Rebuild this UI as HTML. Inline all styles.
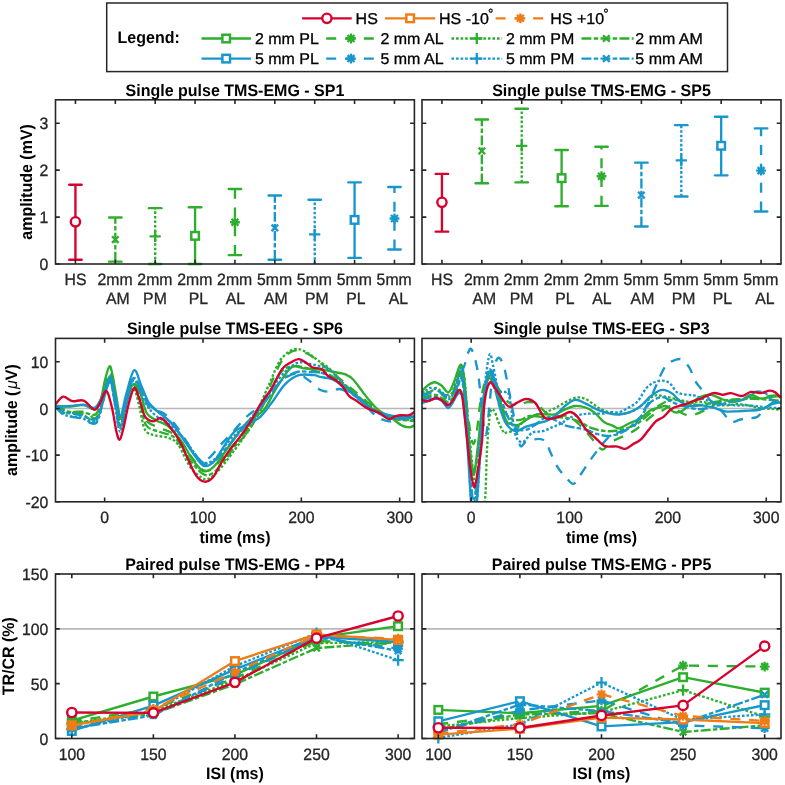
<!DOCTYPE html>
<html><head><meta charset="utf-8"><title>Figure</title>
<style>html,body{margin:0;padding:0;background:#fff;width:785px;height:785px;overflow:hidden}svg{display:block}</style>
</head><body>
<svg width="785" height="785" viewBox="0 0 785 785" font-family="'Liberation Sans', Arial, Helvetica, sans-serif"><style>text{text-rendering:geometricPrecision}</style><defs><clipPath id="c6"><rect x="55.5" y="338.4" width="358.9" height="163.4"/></clipPath><clipPath id="c3"><rect x="422" y="338.4" width="359" height="163.4"/></clipPath><clipPath id="c4"><rect x="55.5" y="574" width="358.9" height="164.5"/></clipPath><clipPath id="c5"><rect x="422" y="574" width="359" height="164.5"/></clipPath><clipPath id="c1"><rect x="55.5" y="99.8" width="358.9" height="164.2"/></clipPath><clipPath id="c2"><rect x="422" y="99.8" width="359" height="164.2"/></clipPath></defs><rect width="785" height="785" fill="#fff"/><path d="M75.44 259.78 L75.44 184.71" fill="none" stroke="#D8002F" stroke-width="2.35" stroke-linejoin="round" clip-path="url(#c1)"/>
<path d="M69.24 259.78H81.64" stroke="#D8002F" stroke-width="2.4" stroke-linecap="round"/>
<path d="M69.24 184.71H81.64" stroke="#D8002F" stroke-width="2.4" stroke-linecap="round"/>
<circle cx="75.44" cy="221.78" r="4.65" fill="#fff" stroke="#D8002F" stroke-width="2.4"/>
<path d="M115.32 261.65 L115.32 217.55" fill="none" stroke="#2DAE2D" stroke-width="2.35" stroke-dasharray="9.9 2.3 4.5 2.3" stroke-linejoin="round" clip-path="url(#c1)"/>
<path d="M109.12 261.65H121.52" stroke="#2DAE2D" stroke-width="2.4" stroke-linecap="round"/>
<path d="M109.12 217.55H121.52" stroke="#2DAE2D" stroke-width="2.4" stroke-linecap="round"/>
<path d="M112.02 236.3L118.62 242.9M112.02 242.9L118.62 236.3" stroke="#2DAE2D" stroke-width="2.3"/>
<path d="M155.19 264 L155.19 208.17" fill="none" stroke="#2DAE2D" stroke-width="2.35" stroke-dasharray="2.6 1.95" stroke-linejoin="round" clip-path="url(#c1)"/>
<path d="M148.99 264H161.39" stroke="#2DAE2D" stroke-width="2.4" stroke-linecap="round"/>
<path d="M148.99 208.17H161.39" stroke="#2DAE2D" stroke-width="2.4" stroke-linecap="round"/>
<path d="M149.59 236.32H160.79M155.19 230.72V241.92" stroke="#2DAE2D" stroke-width="2.3"/>
<path d="M195.07 264 L195.07 207.23" fill="none" stroke="#2DAE2D" stroke-width="2.35" stroke-linejoin="round" clip-path="url(#c1)"/>
<path d="M188.87 264H201.27" stroke="#2DAE2D" stroke-width="2.4" stroke-linecap="round"/>
<path d="M188.87 207.23H201.27" stroke="#2DAE2D" stroke-width="2.4" stroke-linecap="round"/>
<rect x="191.27" y="232.05" width="7.6" height="7.6" fill="#fff" stroke="#2DAE2D" stroke-width="2.45"/>
<path d="M234.95 255.09 L234.95 188.94" fill="none" stroke="#2DAE2D" stroke-width="2.35" stroke-dasharray="10 8.8" stroke-linejoin="round" clip-path="url(#c1)"/>
<path d="M228.75 255.09H241.15" stroke="#2DAE2D" stroke-width="2.4" stroke-linecap="round"/>
<path d="M228.75 188.94H241.15" stroke="#2DAE2D" stroke-width="2.4" stroke-linecap="round"/>
<path d="M230.05 222.25L239.85 222.25M231.49 218.78L238.41 225.71M234.95 217.35L234.95 227.15M238.41 218.78L231.49 225.71" stroke="#2DAE2D" stroke-width="2.3"/>
<path d="M274.83 259.78 L274.83 195.51" fill="none" stroke="#1797CB" stroke-width="2.35" stroke-dasharray="9.9 2.3 4.5 2.3" stroke-linejoin="round" clip-path="url(#c1)"/>
<path d="M268.63 259.78H281.03" stroke="#1797CB" stroke-width="2.4" stroke-linecap="round"/>
<path d="M268.63 195.51H281.03" stroke="#1797CB" stroke-width="2.4" stroke-linecap="round"/>
<path d="M271.53 224.58L278.13 231.18M271.53 231.18L278.13 224.58" stroke="#1797CB" stroke-width="2.3"/>
<path d="M314.71 273.38 L314.71 199.73" fill="none" stroke="#1797CB" stroke-width="2.35" stroke-dasharray="2.6 1.95" stroke-linejoin="round" clip-path="url(#c1)"/>
<path d="M308.51 199.73H320.91" stroke="#1797CB" stroke-width="2.4" stroke-linecap="round"/>
<path d="M309.11 234.44H320.31M314.71 228.84V240.04" stroke="#1797CB" stroke-width="2.3"/>
<path d="M354.58 257.9 L354.58 182.37" fill="none" stroke="#1797CB" stroke-width="2.35" stroke-linejoin="round" clip-path="url(#c1)"/>
<path d="M348.38 257.9H360.78" stroke="#1797CB" stroke-width="2.4" stroke-linecap="round"/>
<path d="M348.38 182.37H360.78" stroke="#1797CB" stroke-width="2.4" stroke-linecap="round"/>
<rect x="350.78" y="216.1" width="7.6" height="7.6" fill="#fff" stroke="#1797CB" stroke-width="2.45"/>
<path d="M394.46 249.46 L394.46 187.06" fill="none" stroke="#1797CB" stroke-width="2.35" stroke-dasharray="10 8.8" stroke-linejoin="round" clip-path="url(#c1)"/>
<path d="M388.26 249.46H400.66" stroke="#1797CB" stroke-width="2.4" stroke-linecap="round"/>
<path d="M388.26 187.06H400.66" stroke="#1797CB" stroke-width="2.4" stroke-linecap="round"/>
<path d="M389.56 218.49L399.36 218.49M391 215.03L397.93 221.96M394.46 213.59L394.46 223.39M397.93 215.03L391 221.96" stroke="#1797CB" stroke-width="2.3"/>
<path d="M441.94 231.63 L441.94 173.92" fill="none" stroke="#D8002F" stroke-width="2.35" stroke-linejoin="round" clip-path="url(#c2)"/>
<path d="M435.74 231.63H448.14" stroke="#D8002F" stroke-width="2.4" stroke-linecap="round"/>
<path d="M435.74 173.92H448.14" stroke="#D8002F" stroke-width="2.4" stroke-linecap="round"/>
<circle cx="441.94" cy="202.31" r="4.65" fill="#fff" stroke="#D8002F" stroke-width="2.4"/>
<path d="M481.83 183.31 L481.83 119.5" fill="none" stroke="#2DAE2D" stroke-width="2.35" stroke-dasharray="9.9 2.3 4.5 2.3" stroke-linejoin="round" clip-path="url(#c2)"/>
<path d="M475.63 183.31H488.03" stroke="#2DAE2D" stroke-width="2.4" stroke-linecap="round"/>
<path d="M475.63 119.5H488.03" stroke="#2DAE2D" stroke-width="2.4" stroke-linecap="round"/>
<path d="M478.53 147.64L485.13 154.24M478.53 154.24L485.13 147.64" stroke="#2DAE2D" stroke-width="2.3"/>
<path d="M521.72 182.37 L521.72 108.71" fill="none" stroke="#2DAE2D" stroke-width="2.35" stroke-dasharray="2.6 1.95" stroke-linejoin="round" clip-path="url(#c2)"/>
<path d="M515.52 182.37H527.92" stroke="#2DAE2D" stroke-width="2.4" stroke-linecap="round"/>
<path d="M515.52 108.71H527.92" stroke="#2DAE2D" stroke-width="2.4" stroke-linecap="round"/>
<path d="M516.12 145.78H527.32M521.72 140.18V151.38" stroke="#2DAE2D" stroke-width="2.3"/>
<path d="M561.61 206.3 L561.61 150" fill="none" stroke="#2DAE2D" stroke-width="2.35" stroke-linejoin="round" clip-path="url(#c2)"/>
<path d="M555.41 206.3H567.81" stroke="#2DAE2D" stroke-width="2.4" stroke-linecap="round"/>
<path d="M555.41 150H567.81" stroke="#2DAE2D" stroke-width="2.4" stroke-linecap="round"/>
<rect x="557.81" y="174.35" width="7.6" height="7.6" fill="#fff" stroke="#2DAE2D" stroke-width="2.45"/>
<path d="M601.5 205.83 L601.5 146.71" fill="none" stroke="#2DAE2D" stroke-width="2.35" stroke-dasharray="10 8.8" stroke-linejoin="round" clip-path="url(#c2)"/>
<path d="M595.3 205.83H607.7" stroke="#2DAE2D" stroke-width="2.4" stroke-linecap="round"/>
<path d="M595.3 146.71H607.7" stroke="#2DAE2D" stroke-width="2.4" stroke-linecap="round"/>
<path d="M596.6 176.27L606.4 176.27M598.04 172.81L604.96 179.74M601.5 171.37L601.5 181.17M604.96 172.81L598.04 179.74" stroke="#2DAE2D" stroke-width="2.3"/>
<path d="M641.39 226.47 L641.39 162.67" fill="none" stroke="#1797CB" stroke-width="2.35" stroke-dasharray="9.9 2.3 4.5 2.3" stroke-linejoin="round" clip-path="url(#c2)"/>
<path d="M635.19 226.47H647.59" stroke="#1797CB" stroke-width="2.4" stroke-linecap="round"/>
<path d="M635.19 162.67H647.59" stroke="#1797CB" stroke-width="2.4" stroke-linecap="round"/>
<path d="M638.09 191.74L644.69 198.34M638.09 198.34L644.69 191.74" stroke="#1797CB" stroke-width="2.3"/>
<path d="M681.28 196.44 L681.28 125.13" fill="none" stroke="#1797CB" stroke-width="2.35" stroke-dasharray="2.6 1.95" stroke-linejoin="round" clip-path="url(#c2)"/>
<path d="M675.08 196.44H687.48" stroke="#1797CB" stroke-width="2.4" stroke-linecap="round"/>
<path d="M675.08 125.13H687.48" stroke="#1797CB" stroke-width="2.4" stroke-linecap="round"/>
<path d="M675.68 160.32H686.88M681.28 154.72V165.92" stroke="#1797CB" stroke-width="2.3"/>
<path d="M721.17 175.33 L721.17 116.69" fill="none" stroke="#1797CB" stroke-width="2.35" stroke-linejoin="round" clip-path="url(#c2)"/>
<path d="M714.97 175.33H727.37" stroke="#1797CB" stroke-width="2.4" stroke-linecap="round"/>
<path d="M714.97 116.69H727.37" stroke="#1797CB" stroke-width="2.4" stroke-linecap="round"/>
<rect x="717.37" y="141.98" width="7.6" height="7.6" fill="#fff" stroke="#1797CB" stroke-width="2.45"/>
<path d="M761.06 211.46 L761.06 128.42" fill="none" stroke="#1797CB" stroke-width="2.35" stroke-dasharray="10 8.8" stroke-linejoin="round" clip-path="url(#c2)"/>
<path d="M754.86 211.46H767.26" stroke="#1797CB" stroke-width="2.4" stroke-linecap="round"/>
<path d="M754.86 128.42H767.26" stroke="#1797CB" stroke-width="2.4" stroke-linecap="round"/>
<path d="M756.16 170.64L765.96 170.64M757.59 167.18L764.52 174.11M761.06 165.74L761.06 175.54M764.52 167.18L757.59 174.11" stroke="#1797CB" stroke-width="2.3"/>
<path d="M75.44 264V259.7M75.44 99.8V104.1M115.32 264V259.7M115.32 99.8V104.1M155.19 264V259.7M155.19 99.8V104.1M195.07 264V259.7M195.07 99.8V104.1M234.95 264V259.7M234.95 99.8V104.1M274.83 264V259.7M274.83 99.8V104.1M314.71 264V259.7M314.71 99.8V104.1M354.58 264V259.7M354.58 99.8V104.1M394.46 264V259.7M394.46 99.8V104.1M55.5 264H59.8M414.4 264H410.1M55.5 217.09H59.8M414.4 217.09H410.1M55.5 170.17H59.8M414.4 170.17H410.1M55.5 123.26H59.8M414.4 123.26H410.1" stroke="#262626" stroke-width="1.6"/>
<rect x="55.5" y="99.8" width="358.9" height="164.2" fill="none" stroke="#262626" stroke-width="1.6"/>
<text font-size="15.8" text-anchor="middle" font-weight="normal" fill="#262626" transform="translate(75.44 284.5) scale(1 1.04)" stroke="#262626" stroke-width="0.3">HS</text>
<text font-size="15.8" text-anchor="middle" font-weight="normal" fill="#262626" transform="translate(115.02 284.5) scale(1 1.04)" stroke="#262626" stroke-width="0.3">2mm</text>
<text font-size="15.8" text-anchor="middle" font-weight="normal" fill="#262626" transform="translate(117.87 303.9) scale(1 1.04)" stroke="#262626" stroke-width="0.3">AM</text>
<text font-size="15.8" text-anchor="middle" font-weight="normal" fill="#262626" transform="translate(154.89 284.5) scale(1 1.04)" stroke="#262626" stroke-width="0.3">2mm</text>
<text font-size="15.8" text-anchor="middle" font-weight="normal" fill="#262626" transform="translate(154.94 303.9) scale(1 1.04)" stroke="#262626" stroke-width="0.3">PM</text>
<text font-size="15.8" text-anchor="middle" font-weight="normal" fill="#262626" transform="translate(194.77 284.5) scale(1 1.04)" stroke="#262626" stroke-width="0.3">2mm</text>
<text font-size="15.8" text-anchor="middle" font-weight="normal" fill="#262626" transform="translate(198.31 303.9) scale(1 1.04)" stroke="#262626" stroke-width="0.3">PL</text>
<text font-size="15.8" text-anchor="middle" font-weight="normal" fill="#262626" transform="translate(234.65 284.5) scale(1 1.04)" stroke="#262626" stroke-width="0.3">2mm</text>
<text font-size="15.8" text-anchor="middle" font-weight="normal" fill="#262626" transform="translate(235.29 303.9) scale(1 1.04)" stroke="#262626" stroke-width="0.3">AL</text>
<text font-size="15.8" text-anchor="middle" font-weight="normal" fill="#262626" transform="translate(274.53 284.5) scale(1 1.04)" stroke="#262626" stroke-width="0.3">5mm</text>
<text font-size="15.8" text-anchor="middle" font-weight="normal" fill="#262626" transform="translate(275.88 303.9) scale(1 1.04)" stroke="#262626" stroke-width="0.3">AM</text>
<text font-size="15.8" text-anchor="middle" font-weight="normal" fill="#262626" transform="translate(314.41 284.5) scale(1 1.04)" stroke="#262626" stroke-width="0.3">5mm</text>
<text font-size="15.8" text-anchor="middle" font-weight="normal" fill="#262626" transform="translate(316.91 303.9) scale(1 1.04)" stroke="#262626" stroke-width="0.3">PM</text>
<text font-size="15.8" text-anchor="middle" font-weight="normal" fill="#262626" transform="translate(354.28 284.5) scale(1 1.04)" stroke="#262626" stroke-width="0.3">5mm</text>
<text font-size="15.8" text-anchor="middle" font-weight="normal" fill="#262626" transform="translate(355.82 303.9) scale(1 1.04)" stroke="#262626" stroke-width="0.3">PL</text>
<text font-size="15.8" text-anchor="middle" font-weight="normal" fill="#262626" transform="translate(394.16 284.5) scale(1 1.04)" stroke="#262626" stroke-width="0.3">5mm</text>
<text font-size="15.8" text-anchor="middle" font-weight="normal" fill="#262626" transform="translate(398.3 303.9) scale(1 1.04)" stroke="#262626" stroke-width="0.3">AL</text>
<text font-size="15.8" text-anchor="end" font-weight="normal" fill="#262626" transform="translate(48.3 270.1) scale(1 1.04)" stroke="#262626" stroke-width="0.3">0</text>
<text font-size="15.8" text-anchor="end" font-weight="normal" fill="#262626" transform="translate(48.3 223.19) scale(1 1.04)" stroke="#262626" stroke-width="0.3">1</text>
<text font-size="15.8" text-anchor="end" font-weight="normal" fill="#262626" transform="translate(48.3 176.27) scale(1 1.04)" stroke="#262626" stroke-width="0.3">2</text>
<text font-size="15.8" text-anchor="end" font-weight="normal" fill="#262626" transform="translate(48.3 129.36) scale(1 1.04)" stroke="#262626" stroke-width="0.3">3</text>
<text font-size="16" text-anchor="middle" font-weight="bold" fill="#000" transform="translate(234.95 95.5) scale(1 1.04)">Single pulse TMS-EMG - SP1</text>
<text x="0" y="0" font-size="16" text-anchor="middle" font-weight="bold" fill="#000" transform="translate(32.4 181.9) rotate(-90) scale(1 1.04)">amplitude (mV)</text>
<path d="M441.94 264V259.7M441.94 99.8V104.1M481.83 264V259.7M481.83 99.8V104.1M521.72 264V259.7M521.72 99.8V104.1M561.61 264V259.7M561.61 99.8V104.1M601.5 264V259.7M601.5 99.8V104.1M641.39 264V259.7M641.39 99.8V104.1M681.28 264V259.7M681.28 99.8V104.1M721.17 264V259.7M721.17 99.8V104.1M761.06 264V259.7M761.06 99.8V104.1M422 264H426.3M781 264H776.7M422 217.09H426.3M781 217.09H776.7M422 170.17H426.3M781 170.17H776.7M422 123.26H426.3M781 123.26H776.7" stroke="#262626" stroke-width="1.6"/>
<rect x="422" y="99.8" width="359" height="164.2" fill="none" stroke="#262626" stroke-width="1.6"/>
<text font-size="15.8" text-anchor="middle" font-weight="normal" fill="#262626" transform="translate(441.94 284.5) scale(1 1.04)" stroke="#262626" stroke-width="0.3">HS</text>
<text font-size="15.8" text-anchor="middle" font-weight="normal" fill="#262626" transform="translate(481.53 284.5) scale(1 1.04)" stroke="#262626" stroke-width="0.3">2mm</text>
<text font-size="15.8" text-anchor="middle" font-weight="normal" fill="#262626" transform="translate(484.38 303.9) scale(1 1.04)" stroke="#262626" stroke-width="0.3">AM</text>
<text font-size="15.8" text-anchor="middle" font-weight="normal" fill="#262626" transform="translate(521.42 284.5) scale(1 1.04)" stroke="#262626" stroke-width="0.3">2mm</text>
<text font-size="15.8" text-anchor="middle" font-weight="normal" fill="#262626" transform="translate(521.47 303.9) scale(1 1.04)" stroke="#262626" stroke-width="0.3">PM</text>
<text font-size="15.8" text-anchor="middle" font-weight="normal" fill="#262626" transform="translate(561.31 284.5) scale(1 1.04)" stroke="#262626" stroke-width="0.3">2mm</text>
<text font-size="15.8" text-anchor="middle" font-weight="normal" fill="#262626" transform="translate(564.85 303.9) scale(1 1.04)" stroke="#262626" stroke-width="0.3">PL</text>
<text font-size="15.8" text-anchor="middle" font-weight="normal" fill="#262626" transform="translate(601.2 284.5) scale(1 1.04)" stroke="#262626" stroke-width="0.3">2mm</text>
<text font-size="15.8" text-anchor="middle" font-weight="normal" fill="#262626" transform="translate(601.84 303.9) scale(1 1.04)" stroke="#262626" stroke-width="0.3">AL</text>
<text font-size="15.8" text-anchor="middle" font-weight="normal" fill="#262626" transform="translate(641.09 284.5) scale(1 1.04)" stroke="#262626" stroke-width="0.3">5mm</text>
<text font-size="15.8" text-anchor="middle" font-weight="normal" fill="#262626" transform="translate(642.44 303.9) scale(1 1.04)" stroke="#262626" stroke-width="0.3">AM</text>
<text font-size="15.8" text-anchor="middle" font-weight="normal" fill="#262626" transform="translate(680.98 284.5) scale(1 1.04)" stroke="#262626" stroke-width="0.3">5mm</text>
<text font-size="15.8" text-anchor="middle" font-weight="normal" fill="#262626" transform="translate(683.48 303.9) scale(1 1.04)" stroke="#262626" stroke-width="0.3">PM</text>
<text font-size="15.8" text-anchor="middle" font-weight="normal" fill="#262626" transform="translate(720.87 284.5) scale(1 1.04)" stroke="#262626" stroke-width="0.3">5mm</text>
<text font-size="15.8" text-anchor="middle" font-weight="normal" fill="#262626" transform="translate(722.41 303.9) scale(1 1.04)" stroke="#262626" stroke-width="0.3">PL</text>
<text font-size="15.8" text-anchor="middle" font-weight="normal" fill="#262626" transform="translate(760.76 284.5) scale(1 1.04)" stroke="#262626" stroke-width="0.3">5mm</text>
<text font-size="15.8" text-anchor="middle" font-weight="normal" fill="#262626" transform="translate(764.9 303.9) scale(1 1.04)" stroke="#262626" stroke-width="0.3">AL</text>
<text font-size="16" text-anchor="middle" font-weight="bold" fill="#000" transform="translate(601.5 95.5) scale(1 1.04)">Single pulse TMS-EMG - SP5</text>
<path d="M55.5 408.43H414.4" stroke="#B8B8B8" stroke-width="1.6"/>
<path d="M422 408.43H781" stroke="#B8B8B8" stroke-width="1.6"/>
<path d="M55.5 405.8 C57.92 405.92 65.3 406.7 70 406.5 C74.7 406.3 79.7 404.15 83.7 404.6 C87.7 405.05 91.13 410.15 94 409.2 C96.87 408.25 99.07 403.77 100.9 398.9 C102.73 394.03 103.57 385.45 105 380 C106.43 374.55 108.25 367.03 109.5 366.2 C110.75 365.37 111.45 370.5 112.5 375 C113.55 379.5 114.48 385.97 115.8 393.2 C117.12 400.43 119.03 415.93 120.4 418.4 C121.77 420.87 122.67 412.2 124 408 C125.33 403.8 126.73 397.2 128.4 393.2 C130.07 389.2 132.07 384.2 134 384 C135.93 383.8 137.9 387.17 140 392 C142.1 396.83 143.85 408.27 146.6 413 C149.35 417.73 152.92 418.2 156.5 420.4 C160.08 422.6 163.95 422.75 168.1 426.2 C172.25 429.65 177.53 435.85 181.4 441.1 C185.27 446.35 187.72 452.73 191.3 457.7 C194.88 462.67 199.32 469.25 202.9 470.9 C206.48 472.55 209.22 470.63 212.8 467.6 C216.38 464.57 220.7 457.67 224.4 452.7 C228.1 447.73 231.02 443.08 235 437.8 C238.98 432.52 243.53 425.58 248.3 421 C253.07 416.42 259 415.65 263.6 410.3 C268.2 404.95 271.3 396.03 275.9 388.9 C280.5 381.77 286.62 370.93 291.2 367.5 C295.78 364.07 299.33 368.03 303.4 368.3 C307.47 368.57 311.57 368.72 315.6 369.1 C319.63 369.48 324.1 370.03 327.6 370.6 C331.1 371.17 333.62 371.87 336.6 372.5 C339.58 373.13 342.75 373.23 345.5 374.4 C348.25 375.57 350.35 376.73 353.1 379.5 C355.85 382.27 359.02 387.18 362 391 C364.98 394.82 368.02 399.02 371 402.4 C373.98 405.78 376.52 408.75 379.9 411.3 C383.28 413.85 387.7 415.35 391.3 417.7 C394.9 420.05 398.52 423.8 401.5 425.4 C404.48 427 407.05 427.3 409.2 427.3 C411.35 427.3 413.53 425.72 414.4 425.4" fill="none" stroke="#2DAE2D" stroke-width="2.35" stroke-linejoin="round" clip-path="url(#c6)"/>
<path d="M55.5 406 C57.92 406.92 65.08 410.5 70 411.5 C74.92 412.5 80.67 410.92 85 412 C89.33 413.08 93 420.5 96 418 C99 415.5 100.67 404.67 103 397 C105.33 389.33 108 372 110 372 C112 372 113.27 388.67 115 397 C116.73 405.33 118.4 421.83 120.4 422 C122.4 422.17 124.73 404.5 127 398 C129.27 391.5 131.83 383 134 383 C136.17 383 138 391.83 140 398 C142 404.17 142.67 415 146 420 C149.33 425 155.17 425.5 160 428 C164.83 430.5 170 430.5 175 435 C180 439.5 185.33 449.17 190 455 C194.67 460.83 199.17 467.83 203 470 C206.83 472.17 209.33 470.5 213 468 C216.67 465.5 221.33 459.17 225 455 C228.67 450.83 231.33 447.17 235 443 C238.67 438.83 243.17 435.17 247 430 C250.83 424.83 254.17 419.33 258 412 C261.83 404.67 266.17 394.33 270 386 C273.83 377.67 277.17 367.83 281 362 C284.83 356.17 288.83 352.5 293 351 C297.17 349.5 301.83 351.33 306 353 C310.17 354.67 314 358 318 361 C322 364 325.5 367.33 330 371 C334.5 374.67 340 378.83 345 383 C350 387.17 355 391.83 360 396 C365 400.17 370 404.5 375 408 C380 411.5 383.43 415.33 390 417 C396.57 418.67 410.33 417.83 414.4 418" fill="none" stroke="#2DAE2D" stroke-width="2.35" stroke-dasharray="10 8.8" stroke-linejoin="round" clip-path="url(#c6)"/>
<path d="M55.5 407 C57.08 408 60.92 412 65 413 C69.08 414 75 411.67 80 413 C85 414.33 91.33 422.33 95 421 C98.67 419.67 99.5 411.83 102 405 C104.5 398.17 107.83 380.83 110 380 C112.17 379.17 113.27 392 115 400 C116.73 408 118.4 427.17 120.4 428 C122.4 428.83 124.73 411.33 127 405 C129.27 398.67 132 390 134 390 C136 390 137.18 398.42 139 405 C140.82 411.58 142.25 424.45 144.9 429.5 C147.55 434.55 151.03 433.92 154.9 435.3 C158.77 436.68 164.25 436.28 168.1 437.8 C171.95 439.32 174.42 439.7 178 444.4 C181.58 449.1 185.73 460.48 189.6 466 C193.47 471.52 197.88 475.43 201.2 477.5 C204.52 479.57 206.18 480.05 209.5 478.4 C212.82 476.75 216.85 472.43 221.1 467.6 C225.35 462.77 230.97 454.87 235 449.4 C239.03 443.93 241.55 441.32 245.3 434.8 C249.05 428.28 253.42 418.97 257.5 410.3 C261.58 401.63 265.97 391.2 269.8 382.8 C273.63 374.4 276.43 365.5 280.5 359.9 C284.57 354.3 289.87 350.48 294.2 349.2 C298.53 347.92 302.67 350.42 306.5 352.2 C310.33 353.98 313.28 357.1 317.2 359.9 C321.12 362.7 325.37 364.82 330 369 C334.63 373.18 340 380.17 345 385 C350 389.83 355 393.83 360 398 C365 402.17 370 406.67 375 410 C380 413.33 383.43 416.33 390 418 C396.57 419.67 410.33 419.67 414.4 420" fill="none" stroke="#2DAE2D" stroke-width="2.35" stroke-dasharray="2.6 1.95" stroke-linejoin="round" clip-path="url(#c6)"/>
<path d="M55.5 406.5 C57.92 407.42 65.08 410.92 70 412 C74.92 413.08 80.67 412.67 85 413 C89.33 413.33 93 416.5 96 414 C99 411.5 100.67 404 103 398 C105.33 392 108 377.67 110 378 C112 378.33 113.27 392.17 115 400 C116.73 407.83 118.4 425 120.4 425 C122.4 425 124.73 406.5 127 400 C129.27 393.5 131.83 386 134 386 C136.17 386 138 393.5 140 400 C142 406.5 142.67 419.67 146 425 C149.33 430.33 155.17 429.83 160 432 C164.83 434.17 170 433.33 175 438 C180 442.67 185.33 454 190 460 C194.67 466 199.17 471.83 203 474 C206.83 476.17 209.33 475.33 213 473 C216.67 470.67 221.33 464.5 225 460 C228.67 455.5 231.33 450.5 235 446 C238.67 441.5 243.17 438.17 247 433 C250.83 427.83 254.17 421.83 258 415 C261.83 408.17 266.17 399.17 270 392 C273.83 384.83 277.17 376.33 281 372 C284.83 367.67 288.83 366.67 293 366 C297.17 365.33 301.83 367 306 368 C310.17 369 314 370.83 318 372 C322 373.17 325.5 372.83 330 375 C334.5 377.17 340 381.17 345 385 C350 388.83 355 393.83 360 398 C365 402.17 370 406.67 375 410 C380 413.33 383.43 416.17 390 418 C396.57 419.83 410.33 420.5 414.4 421" fill="none" stroke="#2DAE2D" stroke-width="2.35" stroke-dasharray="9.9 2.3 4.5 2.3" stroke-linejoin="round" clip-path="url(#c6)"/>
<path d="M55.5 406.9 C57.92 406.75 65.3 406.28 70 406 C74.7 405.72 79.52 404.95 83.7 405.2 C87.88 405.45 91.88 409.2 95.1 407.5 C98.32 405.8 100.52 400.25 103 395 C105.48 389.75 108 376 110 376 C112 376 113.27 388.32 115 395 C116.73 401.68 118.57 416.1 120.4 416.1 C122.23 416.1 123.72 402.65 126 395 C128.28 387.35 131.5 371.62 134.1 370.2 C136.7 368.78 138.97 380.75 141.6 386.5 C144.23 392.25 146.87 400.28 149.9 404.7 C152.93 409.12 155.93 409.68 159.8 413 C163.67 416.32 168.95 419.92 173.1 424.6 C177.25 429.28 180.83 435.58 184.7 441.1 C188.57 446.62 193 453.55 196.3 457.7 C199.6 461.85 201.47 465.45 204.5 466 C207.53 466.55 210.9 464.87 214.5 461 C218.1 457.13 222.68 447.77 226.1 442.8 C229.52 437.83 231.8 434.07 235 431.2 C238.2 428.33 241.03 428.05 245.3 425.6 C249.57 423.15 256.02 420.57 260.6 416.5 C265.18 412.43 268.73 406.57 272.8 401.2 C276.87 395.83 280.67 388.63 285 384.3 C289.33 379.97 293.95 376.72 298.8 375.2 C303.65 373.68 310.57 374.92 314.1 375.2 C317.63 375.48 316.9 376.18 320 376.9 C323.1 377.62 328.45 377.58 332.7 379.5 C336.95 381.42 341.25 385.22 345.5 388.4 C349.75 391.58 353.95 395.2 358.2 398.6 C362.45 402 366.75 406.25 371 408.8 C375.25 411.35 379.47 412.63 383.7 413.9 C387.93 415.17 391.28 415.98 396.4 416.4 C401.52 416.82 411.4 416.4 414.4 416.4" fill="none" stroke="#1797CB" stroke-width="2.35" stroke-linejoin="round" clip-path="url(#c6)"/>
<path d="M55.5 407 C57.08 408.42 60.92 413.67 65 415.5 C69.08 417.33 74.83 416.75 80 418 C85.17 419.25 92.17 426 96 423 C99.83 420 100.67 407.5 103 400 C105.33 392.5 108 377.33 110 378 C112 378.67 113.27 395.33 115 404 C116.73 412.67 118.4 430.67 120.4 430 C122.4 429.33 124.73 408.67 127 400 C129.27 391.33 131 378 134 378 C137 378 142.07 394.72 145 400 C147.93 405.28 148.58 407.53 151.6 409.7 C154.62 411.87 158.97 410.25 163.1 413 C167.23 415.75 171.98 420.68 176.4 426.2 C180.82 431.72 185.47 440.3 189.6 446.1 C193.73 451.9 197.88 459.07 201.2 461 C204.52 462.93 206.18 460.47 209.5 457.7 C212.82 454.93 217.17 448.73 221.1 444.4 C225.03 440.07 228.82 436.35 233.1 431.7 C237.38 427.05 242.22 420.83 246.8 416.5 C251.38 412.17 256.27 410.03 260.6 405.7 C264.93 401.37 268.73 395.08 272.8 390.5 C276.87 385.92 280.92 381.02 285 378.2 C289.08 375.38 293.47 373.33 297.3 373.6 C301.13 373.87 304.22 377.12 308 379.8 C311.78 382.48 316.3 387.73 320 389.7 C323.7 391.67 327.02 391.72 330.2 391.6 C333.38 391.48 336.13 388.93 339.1 389 C342.07 389.07 344.82 390.62 348 392 C351.18 393.38 354.37 394.08 358.2 397.3 C362.03 400.52 367.18 407.68 371 411.3 C374.82 414.92 377.72 417.3 381.1 419 C384.48 420.7 387.9 421.5 391.3 421.5 C394.7 421.5 397.65 419.85 401.5 419 C405.35 418.15 412.25 416.83 414.4 416.4" fill="none" stroke="#1797CB" stroke-width="2.35" stroke-dasharray="10 8.8" stroke-linejoin="round" clip-path="url(#c6)"/>
<path d="M55.5 406 C57.08 407.5 60.92 413.08 65 415 C69.08 416.92 74.83 416.33 80 417.5 C85.17 418.67 92.17 424.58 96 422 C99.83 419.42 100.67 409 103 402 C105.33 395 108 379.5 110 380 C112 380.5 113.27 396.33 115 405 C116.73 413.67 118.4 432.5 120.4 432 C122.4 431.5 124.73 410.67 127 402 C129.27 393.33 131 380 134 380 C137 380 141.5 396.17 145 402 C148.5 407.83 150.83 411.17 155 415 C159.17 418.83 165 420.83 170 425 C175 429.17 180.33 434.5 185 440 C189.67 445.5 194.5 454.17 198 458 C201.5 461.83 203 463 206 463 C209 463 212.33 461.5 216 458 C219.67 454.5 224 446.67 228 442 C232 437.33 235.5 434.83 240 430 C244.5 425.17 250.33 418.83 255 413 C259.67 407.17 263.5 401.33 268 395 C272.5 388.67 277.12 380.35 282 375 C286.88 369.65 292.63 364.73 297.3 362.9 C301.97 361.07 305.93 363.35 310 364 C314.07 364.65 318.37 365.8 321.7 366.8 C325.03 367.8 326.12 366.8 330 370 C333.88 373.2 340 381.17 345 386 C350 390.83 355 394.83 360 399 C365 403.17 370 407.83 375 411 C380 414.17 383.43 416.83 390 418 C396.57 419.17 410.33 418 414.4 418" fill="none" stroke="#1797CB" stroke-width="2.35" stroke-dasharray="2.6 1.95" stroke-linejoin="round" clip-path="url(#c6)"/>
<path d="M55.5 406.5 C57.08 407.42 60.92 410.58 65 412 C69.08 413.42 74.83 413.83 80 415 C85.17 416.17 92.17 421.5 96 419 C99.83 416.5 100.67 406.17 103 400 C105.33 393.83 108 381.67 110 382 C112 382.33 113.27 394.67 115 402 C116.73 409.33 118.4 426.33 120.4 426 C122.4 425.67 124.73 408 127 400 C129.27 392 131 378.33 134 378 C137 377.67 141.17 392.5 145 398 C148.83 403.5 152.83 407 157 411 C161.17 415 165.33 417 170 422 C174.67 427 180.33 434.83 185 441 C189.67 447.17 194.5 455.17 198 459 C201.5 462.83 203 463.83 206 464 C209 464.17 212.33 463 216 460 C219.67 457 224 450.67 228 446 C232 441.33 235.5 437.17 240 432 C244.5 426.83 250.33 420.67 255 415 C259.67 409.33 263.5 403.83 268 398 C272.5 392.17 277.17 384.33 282 380 C286.83 375.67 292.33 373.33 297 372 C301.67 370.67 305.88 371.83 310 372 C314.12 372.17 317.53 371.67 321.7 373 C325.87 374.33 330.28 376.83 335 380 C339.72 383.17 345 388 350 392 C355 396 360 400.33 365 404 C370 407.67 375 411.67 380 414 C385 416.33 389.27 417.5 395 418 C400.73 418.5 411.17 417.17 414.4 417" fill="none" stroke="#1797CB" stroke-width="2.35" stroke-dasharray="9.9 2.3 4.5 2.3" stroke-linejoin="round" clip-path="url(#c6)"/>
<path d="M55.5 404.2 C56.78 402.93 60.42 397.1 63.2 396.6 C65.98 396.1 68.78 400.53 72.2 401.2 C75.62 401.87 79.97 399.17 83.7 400.6 C87.43 402.03 91.8 409.57 94.6 409.8 C97.4 410.03 98.5 405.15 100.5 402 C102.5 398.85 104.63 389.7 106.6 390.9 C108.57 392.1 110.65 402.35 112.3 409.2 C113.95 416.05 115.25 426.93 116.5 432 C117.75 437.07 118.63 440.27 119.8 439.6 C120.97 438.93 122.07 433.77 123.5 428 C124.93 422.23 126.63 411.67 128.4 405 C130.17 398.33 132.33 389.17 134.1 388 C135.87 386.83 137.2 393.28 139 398 C140.8 402.72 142.53 412.42 144.9 416.3 C147.27 420.18 150.57 421.02 153.2 421.3 C155.83 421.58 158.22 417.45 160.7 418 C163.18 418.55 164.93 420.75 168.1 424.6 C171.27 428.45 176.38 435.32 179.7 441.1 C183.02 446.88 185.23 453.5 188 459.3 C190.77 465.1 193.55 472.17 196.3 475.9 C199.05 479.63 201.75 481.43 204.5 481.7 C207.25 481.97 210.03 480.62 212.8 477.5 C215.57 474.38 218.33 467.52 221.1 463 C223.87 458.48 226.38 454.58 229.4 450.4 C232.42 446.22 235.78 442.53 239.2 437.9 C242.62 433.27 246.33 428.22 249.9 422.6 C253.47 416.98 257.03 409.82 260.6 404.2 C264.17 398.58 267.73 394.75 271.3 388.9 C274.87 383.05 278.68 373.55 282 369.1 C285.32 364.65 288.4 363.87 291.2 362.2 C294 360.53 296.25 358.98 298.8 359.1 C301.35 359.22 304.2 361.5 306.5 362.9 C308.8 364.3 310.07 366.47 312.6 367.5 C315.13 368.53 319.2 367.73 321.7 369.1 C324.2 370.47 325.12 373.75 327.6 375.7 C330.08 377.65 334.05 378.9 336.6 380.8 C339.15 382.7 340.78 384.55 342.9 387.1 C345.02 389.65 346.97 393.77 349.3 396.1 C351.63 398.43 354.13 399.2 356.9 401.1 C359.67 403 363.13 405.9 365.9 407.5 C368.67 409.1 371.17 409.75 373.5 410.7 C375.83 411.65 377.35 411.82 379.9 413.2 C382.45 414.58 386.05 418.57 388.8 419 C391.55 419.43 394.07 416.43 396.4 415.8 C398.73 415.17 400.67 415.3 402.8 415.2 C404.93 415.1 407.27 415.73 409.2 415.2 C411.13 414.67 413.53 412.53 414.4 412" fill="none" stroke="#D8002F" stroke-width="2.35" stroke-linejoin="round" clip-path="url(#c6)"/>
<path d="M422 391 C422.95 390.08 425.6 386.97 427.7 385.5 C429.8 384.03 432.3 382.2 434.6 382.2 C436.9 382.2 439.2 383.82 441.5 385.5 C443.8 387.18 446.3 392.93 448.4 392.3 C450.5 391.67 452.2 386.15 454.1 381.7 C456 377.25 458.37 367.7 459.8 365.6 C461.23 363.5 461.73 364.7 462.7 369.1 C463.67 373.5 464.55 380.18 465.6 392 C466.65 403.82 467.68 426.17 469 440 C470.32 453.83 472 474.17 473.5 475 C475 475.83 476.58 455.83 478 445 C479.42 434.17 480.67 420 482 410 C483.33 400 484.53 390.87 486 385 C487.47 379.13 489.23 375.17 490.8 374.8 C492.37 374.43 493.87 378.6 495.4 382.8 C496.93 387 498.57 394.63 500 400 C501.43 405.37 502.82 411.32 504 415 C505.18 418.68 506.23 420.68 507.1 422.1 C507.97 423.52 507.33 423.02 509.2 423.5 C511.07 423.98 515.25 425.77 518.3 425 C521.35 424.23 524.43 420.68 527.5 418.9 C530.57 417.12 533.63 415.07 536.7 414.3 C539.77 413.53 542.85 414.3 545.9 414.3 C548.95 414.3 551.95 415.05 555 414.3 C558.05 413.55 560.88 411.18 564.2 409.8 C567.52 408.42 571.33 406.38 574.9 406 C578.47 405.62 582.28 406.37 585.6 407.5 C588.92 408.63 591.73 410.38 594.8 412.8 C597.87 415.22 600.95 419.83 604 422 C607.05 424.17 610.57 424.75 613.1 425.8 C615.63 426.85 616.4 428.77 619.2 428.3 C622 427.83 626.33 424.65 629.9 423 C633.47 421.35 637.3 420.45 640.6 418.4 C643.9 416.35 646.65 412.48 649.7 410.7 C652.75 408.92 656.1 408.47 658.9 407.7 C661.7 406.93 663.95 405.35 666.5 406.1 C669.05 406.85 671.65 411.38 674.2 412.2 C676.75 413.02 679.25 412.2 681.8 411 C684.35 409.8 686.57 407.3 689.5 405 C692.43 402.7 695.8 398.9 699.4 397.2 C703 395.5 707.2 394.42 711.1 394.8 C715 395.18 718.9 398.32 722.8 399.5 C726.7 400.68 731.18 401.9 734.5 401.9 C737.82 401.9 739.97 400.68 742.7 399.5 C745.43 398.32 747.97 394.98 750.9 394.8 C753.83 394.62 757.17 398 760.3 398.4 C763.43 398.8 766.25 397.6 769.7 397.2 C773.15 396.8 779.12 396.2 781 396" fill="none" stroke="#2DAE2D" stroke-width="2.35" stroke-linejoin="round" clip-path="url(#c3)"/>
<path d="M422 395 C423.33 394.5 427.67 392.83 430 392 C432.33 391.17 434 389.67 436 390 C438 390.33 440 392.33 442 394 C444 395.67 446 400.67 448 400 C450 399.33 452 394.67 454 390 C456 385.33 458.5 373.67 460 372 C461.5 370.33 462 375.33 463 380 C464 384.67 464.83 391.67 466 400 C467.17 408.33 468.77 422.65 470 430 C471.23 437.35 472.23 444.1 473.4 444.1 C474.57 444.1 475.9 436.52 477 430 C478.1 423.48 478.83 412.5 480 405 C481.17 397.5 482.5 390.5 484 385 C485.5 379.5 487.33 372.83 489 372 C490.67 371.17 492.17 376.83 494 380 C495.83 383.17 497.47 387.18 500 391 C502.53 394.82 506.15 400.53 509.2 402.9 C512.25 405.27 515.25 405.33 518.3 405.2 C521.35 405.07 524.43 402.37 527.5 402.1 C530.57 401.83 533.63 401.82 536.7 403.6 C539.77 405.38 542.85 410.73 545.9 412.8 C548.95 414.87 551.18 415.48 555 416 C558.82 416.52 565.22 414.9 568.8 415.9 C572.38 416.9 573.7 419.45 576.5 422 C579.3 424.55 582.55 427.88 585.6 431.2 C588.65 434.52 592 438.85 594.8 441.9 C597.6 444.95 599.87 449.35 602.4 449.5 C604.93 449.65 606.7 444.93 610 442.8 C613.3 440.67 618.13 438.73 622.2 436.7 C626.27 434.67 630.83 432.9 634.4 430.6 C637.97 428.3 640.53 425.45 643.6 422.9 C646.67 420.35 649.73 417.33 652.8 415.3 C655.87 413.27 658.95 412.23 662 410.7 C665.05 409.17 668.1 405.88 671.1 406.1 C674.1 406.32 677.2 410.47 680 412 C682.8 413.53 685.4 414.88 687.9 415.3 C690.4 415.72 692.15 415.38 695 414.5 C697.85 413.62 701.67 411.75 705 410 C708.33 408.25 711.63 405.55 715 404 C718.37 402.45 721.55 401.45 725.2 400.7 C728.85 399.95 733 400.08 736.9 399.5 C740.8 398.92 744.7 397.38 748.6 397.2 C752.5 397.02 756.78 398.6 760.3 398.4 C763.82 398.2 766.25 396.6 769.7 396 C773.15 395.4 779.12 395 781 394.8" fill="none" stroke="#2DAE2D" stroke-width="2.35" stroke-dasharray="10 8.8" stroke-linejoin="round" clip-path="url(#c3)"/>
<path d="M422 392 C423.33 392 427.67 392.67 430 392 C432.33 391.33 434 388 436 388 C438 388 440 390.33 442 392 C444 393.67 446 398.67 448 398 C450 397.33 452 393 454 388 C456 383 458.33 370.17 460 368 C461.67 365.83 462.67 366.33 464 375 C465.33 383.67 466.33 402.5 468 420 C469.67 437.5 472.17 465 474 480 C475.83 495 477.2 506.33 479 510 C480.8 513.67 483.47 512 484.8 502 C486.13 492 486.12 464.77 487 450 C487.88 435.23 488.92 419.95 490.1 413.4 C491.28 406.85 492.75 409.37 494.1 410.7 C495.45 412.03 496.63 417.83 498.2 421.4 C499.77 424.97 502.18 430.22 503.5 432.1 C504.82 433.98 504.13 433.12 506.1 432.7 C508.07 432.28 512.5 431.38 515.3 429.6 C518.1 427.82 520.35 424.03 522.9 422 C525.45 419.97 528.05 418.68 530.6 417.4 C533.15 416.12 535.65 415.2 538.2 414.3 C540.75 413.4 543.1 413.02 545.9 412 C548.7 410.98 551.7 409.85 555 408.2 C558.3 406.55 562.12 403.88 565.7 402.1 C569.28 400.32 573.18 398.02 576.5 397.5 C579.82 396.98 582.55 397.72 585.6 399 C588.65 400.28 591.73 403.28 594.8 405.2 C597.87 407.12 599.8 409.03 604 410.5 C608.2 411.97 614.83 414.08 620 414 C625.17 413.92 630.33 412.33 635 410 C639.67 407.67 644.53 402.43 648 400 C651.47 397.57 652.63 395.9 655.8 395.4 C658.97 394.9 662.97 396.23 667 397 C671.03 397.77 676.17 399.18 680 400 C683.83 400.82 686.38 401.58 690 401.9 C693.62 402.22 697.8 401.52 701.7 401.9 C705.6 402.28 709.48 403.62 713.4 404.2 C717.32 404.78 721.28 405.4 725.2 405.4 C729.12 405.4 733 404.2 736.9 404.2 C740.8 404.2 744.7 404.72 748.6 405.4 C752.5 406.08 756.4 407.72 760.3 408.3 C764.2 408.88 768.55 408.62 772 408.9 C775.45 409.18 779.5 409.82 781 410" fill="none" stroke="#2DAE2D" stroke-width="2.35" stroke-dasharray="2.6 1.95" stroke-linejoin="round" clip-path="url(#c3)"/>
<path d="M422 398 C424.33 397.5 431.67 394.33 436 395 C440.33 395.67 445 402 448 402 C451 402 452 399.5 454 395 C456 390.5 458.5 376.67 460 375 C461.5 373.33 461.83 377.5 463 385 C464.17 392.5 465.67 407.5 467 420 C468.33 432.5 469.83 451.67 471 460 C472.17 468.33 472.83 471.67 474 470 C475.17 468.33 476.67 460 478 450 C479.33 440 480.67 420.83 482 410 C483.33 399.17 484.67 390.33 486 385 C487.33 379.67 488.5 377.17 490 378 C491.5 378.83 493.33 385.5 495 390 C496.67 394.5 497.5 400.33 500 405 C502.5 409.67 506.67 415.5 510 418 C513.33 420.5 516.67 420.33 520 420 C523.33 419.67 525.68 416.43 530 416 C534.32 415.57 540.7 417.17 545.9 417.4 C551.1 417.63 556.1 416.88 561.2 417.4 C566.3 417.92 571.42 418.72 576.5 420.5 C581.58 422.28 586.62 426.32 591.7 428.1 C596.78 429.88 602.28 430.88 607 431.2 C611.72 431.52 615.33 431.03 620 430 C624.67 428.97 630.33 427.5 635 425 C639.67 422.5 643.83 418.33 648 415 C652.17 411.67 656 407.5 660 405 C664 402.5 667.83 400.5 672 400 C676.17 399.5 680.33 401.17 685 402 C689.67 402.83 695 405 700 405 C705 405 710 402.83 715 402 C720 401.17 725 400.5 730 400 C735 399.5 740 399.17 745 399 C750 398.83 754 398.67 760 399 C766 399.33 777.5 400.67 781 401" fill="none" stroke="#2DAE2D" stroke-width="2.35" stroke-dasharray="9.9 2.3 4.5 2.3" stroke-linejoin="round" clip-path="url(#c3)"/>
<path d="M422 403 C423 402.67 425.67 401.75 428 401 C430.33 400.25 433.67 398.5 436 398.5 C438.33 398.5 440 399.42 442 401 C444 402.58 446.17 407.83 448 408 C449.83 408.17 451.5 404.17 453 402 C454.5 399.83 455.83 396.5 457 395 C458.17 393.5 459 392.17 460 393 C461 393.83 461.83 392.17 463 400 C464.17 407.83 465.67 423.33 467 440 C468.33 456.67 469.92 488 471 500 C472.08 512 472.5 512 473.5 512 C474.5 512 475.75 512 477 500 C478.25 488 479.67 457.5 481 440 C482.33 422.5 483.67 406.33 485 395 C486.33 383.67 487.67 374.5 489 372 C490.33 369.5 491.67 376.17 493 380 C494.33 383.83 495.83 390.3 497 395 C498.17 399.7 498.48 403.45 500 408.2 C501.52 412.95 503.55 419.67 506.1 423.5 C508.65 427.33 511.98 430.68 515.3 431.2 C518.62 431.72 522.43 427.88 526 426.6 C529.57 425.32 533.38 424.4 536.7 423.5 C540.02 422.6 542.85 422.47 545.9 421.2 C548.95 419.93 551.95 418.32 555 415.9 C558.05 413.48 560.88 409.38 564.2 406.7 C567.52 404.02 571.33 400.32 574.9 399.8 C578.47 399.28 581.77 401.93 585.6 403.6 C589.43 405.27 593.82 408.13 597.9 409.8 C601.98 411.47 606.55 412.82 610.1 413.6 C613.65 414.38 615.9 414.73 619.2 414.5 C622.5 414.27 626.33 413.6 629.9 412.2 C633.47 410.8 637.3 408.63 640.6 406.1 C643.9 403.57 646.65 399.55 649.7 397 C652.75 394.45 656.35 391.95 658.9 390.8 C661.45 389.65 662.7 389.58 665 390.1 C667.3 390.62 670.15 392 672.7 393.9 C675.25 395.8 677.5 399.47 680.3 401.5 C683.1 403.53 685.93 405.45 689.5 406.1 C693.07 406.75 697.72 405.13 701.7 405.4 C705.68 405.67 709.48 406.72 713.4 407.7 C717.32 408.68 721.28 410.7 725.2 411.3 C729.12 411.9 733 411.4 736.9 411.3 C740.8 411.2 744.7 411 748.6 410.7 C752.5 410.4 756.4 410.58 760.3 409.5 C764.2 408.42 768.55 405.45 772 404.2 C775.45 402.95 779.5 402.37 781 402" fill="none" stroke="#1797CB" stroke-width="2.35" stroke-linejoin="round" clip-path="url(#c3)"/>
<path d="M422 396 C423.33 395.5 427.33 393.83 430 393 C432.67 392.17 435.5 390.67 438 391 C440.5 391.33 442.67 394.67 445 395 C447.33 395.33 449.83 394.67 452 393 C454.17 391.33 456.33 388.5 458 385 C459.67 381.5 460.73 375.83 462 372 C463.27 368.17 464.6 365.17 465.6 362 C466.6 358.83 467.05 355.17 468 353 C468.95 350.83 469.98 347.47 471.3 349 C472.62 350.53 474.57 356.57 475.9 362.2 C477.23 367.83 478.12 373.17 479.3 382.8 C480.48 392.43 481.88 411.3 483 420 C484.12 428.7 485 436.67 486 435 C487 433.33 487.83 420.5 489 410 C490.17 399.5 491.5 380.67 493 372 C494.5 363.33 496.33 359.33 498 358 C499.67 356.67 501.53 360.43 503 364 C504.47 367.57 505 370.75 506.8 379.4 C508.6 388.05 511.62 404.98 513.8 415.9 C515.98 426.82 517.87 440.57 519.9 444.9 C521.93 449.23 522.95 442.92 526 441.9 C529.05 440.88 534.88 438.8 538.2 438.8 C541.52 438.8 543.85 439.6 545.9 441.9 C547.95 444.2 548.47 448.27 550.5 452.6 C552.53 456.93 555.57 463.83 558.1 467.9 C560.63 471.97 563.15 474.33 565.7 477 C568.25 479.67 570.85 484.4 573.4 483.9 C575.95 483.4 578.2 477.95 581 474 C583.8 470.05 587.13 464.53 590.2 460.2 C593.27 455.87 596.1 452.03 599.4 448 C602.7 443.97 606.7 438.65 610 436 C613.3 433.35 615.38 433.52 619.2 432.1 C623.02 430.68 629.33 430.3 632.9 427.5 C636.47 424.7 638.05 419.37 640.6 415.3 C643.15 411.23 645.67 407.93 648.2 403.1 C650.73 398.27 653.77 390.88 655.8 386.3 C657.83 381.72 658.62 379.17 660.4 375.6 C662.18 372.03 664.2 367.45 666.5 364.9 C668.8 362.35 671.65 361.2 674.2 360.3 C676.75 359.4 679.25 358.23 681.8 359.5 C684.35 360.77 687.2 364.2 689.5 367.9 C691.8 371.6 693.17 377.65 695.6 381.7 C698.03 385.75 701.13 388.45 704.1 392.2 C707.07 395.95 710.28 400.83 713.4 404.2 C716.52 407.57 719.87 409.47 722.8 412.4 C725.73 415.33 728.07 420.62 731 421.8 C733.93 422.98 737.67 420.08 740.4 419.5 C743.13 418.92 744.67 418.7 747.4 418.3 C750.13 417.9 754.07 418.47 756.8 417.1 C759.53 415.73 761.27 412.45 763.8 410.1 C766.33 407.75 769.13 404.77 772 403 C774.87 401.23 779.5 400.08 781 399.5" fill="none" stroke="#1797CB" stroke-width="2.35" stroke-dasharray="10 8.8" stroke-linejoin="round" clip-path="url(#c3)"/>
<path d="M422 394 C423.33 393 427.5 388.67 430 388 C432.5 387.33 434.83 388.83 437 390 C439.17 391.17 441 393.5 443 395 C445 396.5 447.17 399.5 449 399 C450.83 398.5 452.33 396 454 392 C455.67 388 457.67 378.67 459 375 C460.33 371.33 461 366.67 462 370 C463 373.33 464 383.33 465 395 C466 406.67 467 422.5 468 440 C469 457.5 470 487.5 471 500 C472 512.5 473 515 474 515 C475 515 475.83 512.5 477 500 C478.17 487.5 479.67 459.17 481 440 C482.33 420.83 483.58 399.22 485 385 C486.42 370.78 488.17 358.03 489.5 354.7 C490.83 351.37 491.75 359.95 493 365 C494.25 370.05 495.83 380.6 497 385 C498.17 389.4 498.67 390.23 500 391.4 C501.33 392.57 503.47 391.23 505 392 C506.53 392.77 507.48 388.97 509.2 396 C510.92 403.03 513.02 426.55 515.3 434.2 C517.58 441.85 520.1 442.15 522.9 441.9 C525.7 441.65 528.78 434.48 532.1 432.7 C535.42 430.92 539.48 432.1 542.8 431.2 C546.12 430.3 548.93 428.58 552 427.3 C555.07 426.02 558.15 425.15 561.2 423.5 C564.25 421.85 566.73 418.93 570.3 417.4 C573.87 415.87 579.03 414.93 582.6 414.3 C586.17 413.67 588.13 413.72 591.7 413.6 C595.27 413.48 600.95 413.83 604 413.6 C607.05 413.37 607.47 412.43 610 412.2 C612.53 411.97 616.15 412.95 619.2 412.2 C622.25 411.45 625.25 409.48 628.3 407.7 C631.35 405.92 634.43 404.82 637.5 401.5 C640.57 398.18 643.65 391.1 646.7 387.8 C649.75 384.5 652.75 382.85 655.8 381.7 C658.85 380.55 662.45 380.4 665 380.9 C667.55 381.4 669.07 382.78 671.1 384.7 C673.13 386.62 674.65 390.73 677.2 392.4 C679.75 394.07 683.6 394.2 686.4 394.7 C689.2 395.2 691.45 394.78 694 395.4 C696.55 396.02 698.47 397.32 701.7 398.4 C704.93 399.48 709.48 400.93 713.4 401.9 C717.32 402.87 721.28 403.62 725.2 404.2 C729.12 404.78 733 405.2 736.9 405.4 C740.8 405.6 744.7 405.2 748.6 405.4 C752.5 405.6 756.4 406.22 760.3 406.6 C764.2 406.98 768.55 407.42 772 407.7 C775.45 407.98 779.5 408.2 781 408.3" fill="none" stroke="#1797CB" stroke-width="2.35" stroke-dasharray="2.6 1.95" stroke-linejoin="round" clip-path="url(#c3)"/>
<path d="M422 400 C424.33 399.5 431.67 396.33 436 397 C440.33 397.67 445 403.83 448 404 C451 404.17 452 402 454 398 C456 394 458.5 382.67 460 380 C461.5 377.33 462 377 463 382 C464 387 464.83 395.33 466 410 C467.17 424.67 468.83 455 470 470 C471.17 485 472 496.67 473 500 C474 503.33 474.83 500 476 490 C477.17 480 478.67 455.83 480 440 C481.33 424.17 482.5 406.67 484 395 C485.5 383.33 487.33 372.83 489 370 C490.67 367.17 492.17 373.83 494 378 C495.83 382.17 497.83 388.83 500 395 C502.17 401.17 504.5 409.5 507 415 C509.5 420.5 512 425.5 515 428 C518 430.5 521.67 430.5 525 430 C528.33 429.5 531.52 427.1 535 425 C538.48 422.9 542.57 418.23 545.9 417.4 C549.23 416.57 551.95 418.73 555 420 C558.05 421.27 561.13 423.78 564.2 425 C567.27 426.22 569.83 426.53 573.4 427.3 C576.97 428.07 581.52 428.45 585.6 429.6 C589.68 430.75 593.82 433.17 597.9 434.2 C601.98 435.23 605.53 436.4 610.1 435.8 C614.67 435.2 620.22 433.77 625.3 430.6 C630.38 427.43 636.53 421.38 640.6 416.8 C644.67 412.22 646.65 406.28 649.7 403.1 C652.75 399.92 656.35 398.6 658.9 397.7 C661.45 396.8 662.97 397.07 665 397.7 C667.03 398.33 668.03 400.1 671.1 401.5 C674.17 402.9 678.58 404.82 683.4 406.1 C688.22 407.38 694.73 409.22 700 409.2 C705.27 409.18 710 407.2 715 406 C720 404.8 725 403.17 730 402 C735 400.83 740.83 400.67 745 399 C749.17 397.33 751.67 393 755 392 C758.33 391 762.17 391.67 765 393 C767.83 394.33 769.33 398.33 772 400 C774.67 401.67 779.5 402.5 781 403" fill="none" stroke="#1797CB" stroke-width="2.35" stroke-dasharray="9.9 2.3 4.5 2.3" stroke-linejoin="round" clip-path="url(#c3)"/>
<path d="M422 400 C422.95 400.2 425.4 401.53 427.7 401.2 C430 400.87 433.5 398.2 435.8 398 C438.1 397.8 439.5 398.8 441.5 400 C443.5 401.2 445.88 405.2 447.8 405.2 C449.72 405.2 451.18 402.48 453 400 C454.82 397.52 457.18 391.07 458.7 390.3 C460.22 389.53 461.05 390.53 462.1 395.4 C463.15 400.27 464.23 412.9 465 419.5 C465.77 426.1 465.85 427.1 466.7 435 C467.55 442.9 468.87 458.23 470.1 466.9 C471.33 475.57 472.88 485.88 474.1 487 C475.32 488.12 476.07 481.42 477.4 473.6 C478.73 465.78 480.92 451.98 482.1 440.1 C483.28 428.22 483.25 411.85 484.5 402.3 C485.75 392.75 487.78 385.08 489.6 382.8 C491.42 380.52 493.28 385.92 495.4 388.6 C497.52 391.28 500 395.88 502.3 398.9 C504.6 401.92 506.78 406.03 509.2 406.7 C511.62 407.37 514 404.18 516.8 402.9 C519.6 401.62 522.93 399 526 399 C529.07 399 532.15 399.83 535.2 402.9 C538.25 405.97 541.5 414.78 544.3 417.4 C547.1 420.02 549.18 418.85 552 418.6 C554.82 418.35 558.15 417 561.2 415.9 C564.25 414.8 567.5 411.75 570.3 412 C573.1 412.25 575.45 414.58 578 417.4 C580.55 420.22 582.8 425.58 585.6 428.9 C588.4 432.22 591.73 434.5 594.8 437.3 C597.87 440.1 601.2 444.17 604 445.7 C606.8 447.23 609.33 446.35 611.6 446.5 C613.87 446.65 615.32 446.2 617.6 446.6 C619.88 447 622.75 449.28 625.3 448.9 C627.85 448.52 630.35 445.83 632.9 444.3 C635.45 442.77 638.05 441.98 640.6 439.7 C643.15 437.42 645.67 433.65 648.2 430.6 C650.73 427.55 653.25 423.7 655.8 421.4 C658.35 419.1 660.95 418.83 663.5 416.8 C666.05 414.77 668.55 410.98 671.1 409.2 C673.65 407.42 676.25 407 678.8 406.1 C681.35 405.2 683.87 404.68 686.4 403.8 C688.93 402.92 691.45 401.7 694 400.8 C696.55 399.9 698.47 399.68 701.7 398.4 C704.93 397.12 709.88 393.7 713.4 393.1 C716.92 392.5 719.87 394.8 722.8 394.8 C725.73 394.8 727.87 392.9 731 393.1 C734.13 393.3 738.28 396.2 741.6 396 C744.92 395.8 747.78 392.38 750.9 391.9 C754.02 391.42 757.17 393.3 760.3 393.1 C763.43 392.9 767.17 390.8 769.7 390.7 C772.23 390.6 773.62 391.28 775.5 392.5 C777.38 393.72 780.08 397.08 781 398" fill="none" stroke="#D8002F" stroke-width="2.35" stroke-linejoin="round" clip-path="url(#c3)"/>
<path d="M104.66 501.8V497.5M104.66 338.4V342.7M202.99 501.8V497.5M202.99 338.4V342.7M301.32 501.8V497.5M301.32 338.4V342.7M399.65 501.8V497.5M399.65 338.4V342.7M55.5 501.8H59.8M414.4 501.8H410.1M55.5 455.11H59.8M414.4 455.11H410.1M55.5 408.43H59.8M414.4 408.43H410.1M55.5 361.74H59.8M414.4 361.74H410.1" stroke="#262626" stroke-width="1.6"/>
<rect x="55.5" y="338.4" width="358.9" height="163.4" fill="none" stroke="#262626" stroke-width="1.6"/>
<text font-size="15.8" text-anchor="middle" font-weight="normal" fill="#262626" transform="translate(104.66 523.1) scale(1 1.04)" stroke="#262626" stroke-width="0.3">0</text>
<text font-size="15.8" text-anchor="middle" font-weight="normal" fill="#262626" transform="translate(202.99 523.1) scale(1 1.04)" stroke="#262626" stroke-width="0.3">100</text>
<text font-size="15.8" text-anchor="middle" font-weight="normal" fill="#262626" transform="translate(301.32 523.1) scale(1 1.04)" stroke="#262626" stroke-width="0.3">200</text>
<text font-size="15.8" text-anchor="middle" font-weight="normal" fill="#262626" transform="translate(399.65 523.1) scale(1 1.04)" stroke="#262626" stroke-width="0.3">300</text>
<text font-size="15.8" text-anchor="end" font-weight="normal" fill="#262626" transform="translate(48.3 507.9) scale(1 1.04)" stroke="#262626" stroke-width="0.3">-20</text>
<text font-size="15.8" text-anchor="end" font-weight="normal" fill="#262626" transform="translate(48.3 461.21) scale(1 1.04)" stroke="#262626" stroke-width="0.3">-10</text>
<text font-size="15.8" text-anchor="end" font-weight="normal" fill="#262626" transform="translate(48.3 414.53) scale(1 1.04)" stroke="#262626" stroke-width="0.3">0</text>
<text font-size="15.8" text-anchor="end" font-weight="normal" fill="#262626" transform="translate(48.3 367.84) scale(1 1.04)" stroke="#262626" stroke-width="0.3">10</text>
<text font-size="16" text-anchor="middle" font-weight="bold" fill="#000" transform="translate(234.95 334.1) scale(1 1.04)">Single pulse TMS-EEG - SP6</text>
<text font-size="16" text-anchor="middle" font-weight="bold" fill="#000" transform="translate(234.95 542.8) scale(1 1.04)">time (ms)</text>
<text x="0" y="0" font-size="16" text-anchor="middle" font-weight="bold" fill="#000" transform="translate(17.3 420.1) rotate(-90) scale(1 1.04)">amplitude (<tspan font-style="italic" font-weight="normal" dx="1.6">μ</tspan>V)</text>
<path d="M471.18 501.8V497.5M471.18 338.4V342.7M569.53 501.8V497.5M569.53 338.4V342.7M667.89 501.8V497.5M667.89 338.4V342.7M766.25 501.8V497.5M766.25 338.4V342.7M422 501.8H426.3M781 501.8H776.7M422 455.11H426.3M781 455.11H776.7M422 408.43H426.3M781 408.43H776.7M422 361.74H426.3M781 361.74H776.7" stroke="#262626" stroke-width="1.6"/>
<rect x="422" y="338.4" width="359" height="163.4" fill="none" stroke="#262626" stroke-width="1.6"/>
<text font-size="15.8" text-anchor="middle" font-weight="normal" fill="#262626" transform="translate(471.18 523.1) scale(1 1.04)" stroke="#262626" stroke-width="0.3">0</text>
<text font-size="15.8" text-anchor="middle" font-weight="normal" fill="#262626" transform="translate(569.53 523.1) scale(1 1.04)" stroke="#262626" stroke-width="0.3">100</text>
<text font-size="15.8" text-anchor="middle" font-weight="normal" fill="#262626" transform="translate(667.89 523.1) scale(1 1.04)" stroke="#262626" stroke-width="0.3">200</text>
<text font-size="15.8" text-anchor="middle" font-weight="normal" fill="#262626" transform="translate(766.25 523.1) scale(1 1.04)" stroke="#262626" stroke-width="0.3">300</text>
<text font-size="16" text-anchor="middle" font-weight="bold" fill="#000" transform="translate(601.5 334.1) scale(1 1.04)">Single pulse TMS-EEG - SP3</text>
<text font-size="16" text-anchor="middle" font-weight="bold" fill="#000" transform="translate(601.5 542.8) scale(1 1.04)">time (ms)</text>
<path d="M55.5 628.83H414.4" stroke="#B8B8B8" stroke-width="1.6"/>
<path d="M422 628.83H781" stroke="#B8B8B8" stroke-width="1.6"/>
<path d="M71.81 720.62 L153.38 696.5 L234.95 674.89 L316.52 637.61 L398.09 626.2" fill="none" stroke="#2DAE2D" stroke-width="2.35" stroke-linejoin="round"/>
<rect x="68.01" y="716.82" width="7.6" height="7.6" fill="#fff" stroke="#2DAE2D" stroke-width="2.45"/>
<rect x="149.58" y="692.7" width="7.6" height="7.6" fill="#fff" stroke="#2DAE2D" stroke-width="2.45"/>
<rect x="231.15" y="671.09" width="7.6" height="7.6" fill="#fff" stroke="#2DAE2D" stroke-width="2.45"/>
<rect x="312.72" y="633.81" width="7.6" height="7.6" fill="#fff" stroke="#2DAE2D" stroke-width="2.45"/>
<rect x="394.29" y="622.4" width="7.6" height="7.6" fill="#fff" stroke="#2DAE2D" stroke-width="2.45"/>
<path d="M71.81 721.5 L153.38 708.89 L234.95 678.18 L316.52 640.9 L398.09 644.19" fill="none" stroke="#2DAE2D" stroke-width="2.35" stroke-dasharray="10 8.8" stroke-linejoin="round"/>
<path d="M66.91 721.5L76.71 721.5M68.35 718.04L75.28 724.97M71.81 716.6L71.81 726.4M75.28 718.04L68.35 724.97" stroke="#2DAE2D" stroke-width="2.3"/>
<path d="M148.48 708.89L158.28 708.89M149.92 705.43L156.85 712.35M153.38 703.99L153.38 713.79M156.85 705.43L149.92 712.35" stroke="#2DAE2D" stroke-width="2.3"/>
<path d="M230.05 678.18L239.85 678.18M231.49 674.72L238.41 681.65M234.95 673.28L234.95 683.08M238.41 674.72L231.49 681.65" stroke="#2DAE2D" stroke-width="2.3"/>
<path d="M311.62 640.9L321.42 640.9M313.05 637.43L319.98 644.36M316.52 636L316.52 645.8M319.98 637.43L313.05 644.36" stroke="#2DAE2D" stroke-width="2.3"/>
<path d="M393.19 644.19L402.99 644.19M394.62 640.72L401.55 647.65M398.09 639.29L398.09 649.09M401.55 640.72L394.62 647.65" stroke="#2DAE2D" stroke-width="2.3"/>
<path d="M71.81 723.7 L153.38 711.08 L234.95 680.38 L316.52 643.09 L398.09 641.99" fill="none" stroke="#2DAE2D" stroke-width="2.35" stroke-dasharray="2.6 1.95" stroke-linejoin="round"/>
<path d="M66.21 723.7H77.41M71.81 718.1V729.3" stroke="#2DAE2D" stroke-width="2.3"/>
<path d="M147.78 711.08H158.98M153.38 705.48V716.68" stroke="#2DAE2D" stroke-width="2.3"/>
<path d="M229.35 680.38H240.55M234.95 674.78V685.98" stroke="#2DAE2D" stroke-width="2.3"/>
<path d="M310.92 643.09H322.12M316.52 637.49V648.69" stroke="#2DAE2D" stroke-width="2.3"/>
<path d="M392.49 641.99H403.69M398.09 636.39V647.59" stroke="#2DAE2D" stroke-width="2.3"/>
<path d="M71.81 723.15 L153.38 713.83 L234.95 684.22 L316.52 648.13 L398.09 641.99" fill="none" stroke="#2DAE2D" stroke-width="2.35" stroke-dasharray="9.9 2.3 4.5 2.3" stroke-linejoin="round"/>
<path d="M68.51 719.85L75.11 726.45M68.51 726.45L75.11 719.85" stroke="#2DAE2D" stroke-width="2.3"/>
<path d="M150.08 710.53L156.68 717.12M150.08 717.12L156.68 710.53" stroke="#2DAE2D" stroke-width="2.3"/>
<path d="M231.65 680.92L238.25 687.51M231.65 687.51L238.25 680.92" stroke="#2DAE2D" stroke-width="2.3"/>
<path d="M313.22 644.83L319.82 651.43M313.22 651.43L319.82 644.83" stroke="#2DAE2D" stroke-width="2.3"/>
<path d="M394.79 638.69L401.39 645.29M394.79 645.29L401.39 638.69" stroke="#2DAE2D" stroke-width="2.3"/>
<path d="M71.81 730.93 L153.38 705.6 L234.95 669.41 L316.52 636.51 L398.09 641.99" fill="none" stroke="#1797CB" stroke-width="2.35" stroke-linejoin="round"/>
<rect x="68.01" y="727.13" width="7.6" height="7.6" fill="#fff" stroke="#1797CB" stroke-width="2.45"/>
<rect x="149.58" y="701.8" width="7.6" height="7.6" fill="#fff" stroke="#1797CB" stroke-width="2.45"/>
<rect x="231.15" y="665.61" width="7.6" height="7.6" fill="#fff" stroke="#1797CB" stroke-width="2.45"/>
<rect x="312.72" y="632.71" width="7.6" height="7.6" fill="#fff" stroke="#1797CB" stroke-width="2.45"/>
<rect x="394.29" y="638.19" width="7.6" height="7.6" fill="#fff" stroke="#1797CB" stroke-width="2.45"/>
<path d="M71.81 727.53 L153.38 714.37 L234.95 675.99 L316.52 637.61 L398.09 648.57" fill="none" stroke="#1797CB" stroke-width="2.35" stroke-dasharray="10 8.8" stroke-linejoin="round"/>
<path d="M66.91 727.53L76.71 727.53M68.35 724.07L75.28 731M71.81 722.63L71.81 732.43M75.28 724.07L68.35 731" stroke="#1797CB" stroke-width="2.3"/>
<path d="M148.48 714.37L158.28 714.37M149.92 710.91L156.85 717.84M153.38 709.47L153.38 719.27M156.85 710.91L149.92 717.84" stroke="#1797CB" stroke-width="2.3"/>
<path d="M230.05 675.99L239.85 675.99M231.49 672.53L238.41 679.45M234.95 671.09L234.95 680.89M238.41 672.53L231.49 679.45" stroke="#1797CB" stroke-width="2.3"/>
<path d="M311.62 637.61L321.42 637.61M313.05 634.14L319.98 641.07M316.52 632.71L316.52 642.51M319.98 634.14L313.05 641.07" stroke="#1797CB" stroke-width="2.3"/>
<path d="M393.19 648.57L402.99 648.57M394.62 645.11L401.55 652.04M398.09 643.67L398.09 653.47M401.55 645.11L394.62 652.04" stroke="#1797CB" stroke-width="2.3"/>
<path d="M71.81 729.18 L153.38 711.08 L234.95 666.12 L316.52 633.22 L398.09 660.09" fill="none" stroke="#1797CB" stroke-width="2.35" stroke-dasharray="2.6 1.95" stroke-linejoin="round"/>
<path d="M66.21 729.18H77.41M71.81 723.58V734.78" stroke="#1797CB" stroke-width="2.3"/>
<path d="M147.78 711.08H158.98M153.38 705.48V716.68" stroke="#1797CB" stroke-width="2.3"/>
<path d="M229.35 666.12H240.55M234.95 660.52V671.72" stroke="#1797CB" stroke-width="2.3"/>
<path d="M310.92 633.22H322.12M316.52 627.62V638.82" stroke="#1797CB" stroke-width="2.3"/>
<path d="M392.49 660.09H403.69M398.09 654.49V665.69" stroke="#1797CB" stroke-width="2.3"/>
<path d="M71.81 728.63 L153.38 715.47 L234.95 672.7 L316.52 636.51 L398.09 650.77" fill="none" stroke="#1797CB" stroke-width="2.35" stroke-dasharray="9.9 2.3 4.5 2.3" stroke-linejoin="round"/>
<path d="M68.51 725.33L75.11 731.93M68.51 731.93L75.11 725.33" stroke="#1797CB" stroke-width="2.3"/>
<path d="M150.08 712.17L156.68 718.77M150.08 718.77L156.68 712.17" stroke="#1797CB" stroke-width="2.3"/>
<path d="M231.65 669.4L238.25 676M231.65 676L238.25 669.4" stroke="#1797CB" stroke-width="2.3"/>
<path d="M313.22 633.21L319.82 639.81M313.22 639.81L319.82 633.21" stroke="#1797CB" stroke-width="2.3"/>
<path d="M394.79 647.47L401.39 654.07M394.79 654.07L401.39 647.47" stroke="#1797CB" stroke-width="2.3"/>
<path d="M71.81 725.23 L153.38 711.3 L234.95 661.08 L316.52 634.32 L398.09 639.8" fill="none" stroke="#EE7D17" stroke-width="2.35" stroke-linejoin="round"/>
<rect x="68.01" y="721.43" width="7.6" height="7.6" fill="#fff" stroke="#EE7D17" stroke-width="2.45"/>
<rect x="149.58" y="707.5" width="7.6" height="7.6" fill="#fff" stroke="#EE7D17" stroke-width="2.45"/>
<rect x="231.15" y="657.28" width="7.6" height="7.6" fill="#fff" stroke="#EE7D17" stroke-width="2.45"/>
<rect x="312.72" y="630.52" width="7.6" height="7.6" fill="#fff" stroke="#EE7D17" stroke-width="2.45"/>
<rect x="394.29" y="636" width="7.6" height="7.6" fill="#fff" stroke="#EE7D17" stroke-width="2.45"/>
<path d="M71.81 725.89 L153.38 708.89 L234.95 672.15 L316.52 635.41 L398.09 638.7" fill="none" stroke="#EE7D17" stroke-width="2.35" stroke-dasharray="10 8.8" stroke-linejoin="round"/>
<path d="M66.91 725.89L76.71 725.89M68.35 722.42L75.28 729.35M71.81 720.99L71.81 730.79M75.28 722.42L68.35 729.35" stroke="#EE7D17" stroke-width="2.3"/>
<path d="M148.48 708.89L158.28 708.89M149.92 705.43L156.85 712.35M153.38 703.99L153.38 713.79M156.85 705.43L149.92 712.35" stroke="#EE7D17" stroke-width="2.3"/>
<path d="M230.05 672.15L239.85 672.15M231.49 668.69L238.41 675.62M234.95 667.25L234.95 677.05M238.41 668.69L231.49 675.62" stroke="#EE7D17" stroke-width="2.3"/>
<path d="M311.62 635.41L321.42 635.41M313.05 631.95L319.98 638.88M316.52 630.51L316.52 640.31M319.98 631.95L313.05 638.88" stroke="#EE7D17" stroke-width="2.3"/>
<path d="M393.19 638.7L402.99 638.7M394.62 635.24L401.55 642.17M398.09 633.8L398.09 643.6M401.55 635.24L394.62 642.17" stroke="#EE7D17" stroke-width="2.3"/>
<path d="M71.81 712.51 L153.38 712.84 L234.95 682.35 L316.52 638.15 L398.09 616" fill="none" stroke="#D8002F" stroke-width="2.35" stroke-linejoin="round"/>
<circle cx="71.81" cy="712.51" r="4.65" fill="#fff" stroke="#D8002F" stroke-width="2.4"/>
<circle cx="153.38" cy="712.84" r="4.65" fill="#fff" stroke="#D8002F" stroke-width="2.4"/>
<circle cx="234.95" cy="682.35" r="4.65" fill="#fff" stroke="#D8002F" stroke-width="2.4"/>
<circle cx="316.52" cy="638.15" r="4.65" fill="#fff" stroke="#D8002F" stroke-width="2.4"/>
<circle cx="398.09" cy="616" r="4.65" fill="#fff" stroke="#D8002F" stroke-width="2.4"/>
<path d="M438.32 709.88 L519.91 713.28 L601.5 705.82 L683.09 677.2 L764.68 692.66" fill="none" stroke="#2DAE2D" stroke-width="2.35" stroke-linejoin="round"/>
<rect x="434.52" y="706.08" width="7.6" height="7.6" fill="#fff" stroke="#2DAE2D" stroke-width="2.45"/>
<rect x="516.11" y="709.48" width="7.6" height="7.6" fill="#fff" stroke="#2DAE2D" stroke-width="2.45"/>
<rect x="597.7" y="702.02" width="7.6" height="7.6" fill="#fff" stroke="#2DAE2D" stroke-width="2.45"/>
<rect x="679.29" y="673.4" width="7.6" height="7.6" fill="#fff" stroke="#2DAE2D" stroke-width="2.45"/>
<rect x="760.88" y="688.86" width="7.6" height="7.6" fill="#fff" stroke="#2DAE2D" stroke-width="2.45"/>
<path d="M438.32 724.24 L519.91 714.37 L601.5 711.08 L683.09 665.57 L764.68 666.56" fill="none" stroke="#2DAE2D" stroke-width="2.35" stroke-dasharray="10 8.8" stroke-linejoin="round"/>
<path d="M433.42 724.24L443.22 724.24M434.85 720.78L441.78 727.71M438.32 719.34L438.32 729.14M441.78 720.78L434.85 727.71" stroke="#2DAE2D" stroke-width="2.3"/>
<path d="M515.01 714.37L524.81 714.37M516.44 710.91L523.37 717.84M519.91 709.47L519.91 719.27M523.37 710.91L516.44 717.84" stroke="#2DAE2D" stroke-width="2.3"/>
<path d="M596.6 711.08L606.4 711.08M598.04 707.62L604.96 714.55M601.5 706.18L601.5 715.98M604.96 707.62L598.04 714.55" stroke="#2DAE2D" stroke-width="2.3"/>
<path d="M678.19 665.57L687.99 665.57M679.63 662.11L686.56 669.04M683.09 660.67L683.09 670.47M686.56 662.11L679.63 669.04" stroke="#2DAE2D" stroke-width="2.3"/>
<path d="M759.78 666.56L769.58 666.56M761.22 663.09L768.15 670.02M764.68 661.66L764.68 671.46M768.15 663.09L761.22 670.02" stroke="#2DAE2D" stroke-width="2.3"/>
<path d="M438.32 726.44 L519.91 718.1 L601.5 712.18 L683.09 690.14 L764.68 716.57" fill="none" stroke="#2DAE2D" stroke-width="2.35" stroke-dasharray="2.6 1.95" stroke-linejoin="round"/>
<path d="M432.72 726.44H443.92M438.32 720.84V732.04" stroke="#2DAE2D" stroke-width="2.3"/>
<path d="M514.31 718.1H525.51M519.91 712.5V723.7" stroke="#2DAE2D" stroke-width="2.3"/>
<path d="M595.9 712.18H607.1M601.5 706.58V717.78" stroke="#2DAE2D" stroke-width="2.3"/>
<path d="M677.49 690.14H688.69M683.09 684.54V695.74" stroke="#2DAE2D" stroke-width="2.3"/>
<path d="M759.08 716.57H770.28M764.68 710.97V722.17" stroke="#2DAE2D" stroke-width="2.3"/>
<path d="M438.32 729.73 L519.91 714.37 L601.5 713.28 L683.09 732.03 L764.68 725.34" fill="none" stroke="#2DAE2D" stroke-width="2.35" stroke-dasharray="9.9 2.3 4.5 2.3" stroke-linejoin="round"/>
<path d="M435.02 726.43L441.62 733.03M435.02 733.03L441.62 726.43" stroke="#2DAE2D" stroke-width="2.3"/>
<path d="M516.61 711.07L523.21 717.67M516.61 717.67L523.21 711.07" stroke="#2DAE2D" stroke-width="2.3"/>
<path d="M598.2 709.98L604.8 716.58M598.2 716.58L604.8 709.98" stroke="#2DAE2D" stroke-width="2.3"/>
<path d="M679.79 728.73L686.39 735.33M679.79 735.33L686.39 728.73" stroke="#2DAE2D" stroke-width="2.3"/>
<path d="M761.38 722.04L767.98 728.64M761.38 728.64L767.98 722.04" stroke="#2DAE2D" stroke-width="2.3"/>
<path d="M438.32 721.28 L519.91 701.21 L601.5 726.44 L683.09 722.05 L764.68 705.16" fill="none" stroke="#1797CB" stroke-width="2.35" stroke-linejoin="round"/>
<rect x="434.52" y="717.48" width="7.6" height="7.6" fill="#fff" stroke="#1797CB" stroke-width="2.45"/>
<rect x="516.11" y="697.41" width="7.6" height="7.6" fill="#fff" stroke="#1797CB" stroke-width="2.45"/>
<rect x="597.7" y="722.64" width="7.6" height="7.6" fill="#fff" stroke="#1797CB" stroke-width="2.45"/>
<rect x="679.29" y="718.25" width="7.6" height="7.6" fill="#fff" stroke="#1797CB" stroke-width="2.45"/>
<rect x="760.88" y="701.36" width="7.6" height="7.6" fill="#fff" stroke="#1797CB" stroke-width="2.45"/>
<path d="M438.32 731.92 L519.91 710.43 L601.5 700.45 L683.09 725.34 L764.68 728.19" fill="none" stroke="#1797CB" stroke-width="2.35" stroke-dasharray="10 8.8" stroke-linejoin="round"/>
<path d="M433.42 731.92L443.22 731.92M434.85 728.46L441.78 735.38M438.32 727.02L438.32 736.82M441.78 728.46L434.85 735.38" stroke="#1797CB" stroke-width="2.3"/>
<path d="M515.01 710.43L524.81 710.43M516.44 706.96L523.37 713.89M519.91 705.53L519.91 715.33M523.37 706.96L516.44 713.89" stroke="#1797CB" stroke-width="2.3"/>
<path d="M596.6 700.45L606.4 700.45M598.04 696.98L604.96 703.91M601.5 695.55L601.5 705.35M604.96 696.98L598.04 703.91" stroke="#1797CB" stroke-width="2.3"/>
<path d="M678.19 725.34L687.99 725.34M679.63 721.88L686.56 728.8M683.09 720.44L683.09 730.24M686.56 721.88L679.63 728.8" stroke="#1797CB" stroke-width="2.3"/>
<path d="M759.78 728.19L769.58 728.19M761.22 724.73L768.15 731.66M764.68 723.29L764.68 733.09M768.15 724.73L761.22 731.66" stroke="#1797CB" stroke-width="2.3"/>
<path d="M438.32 737.95 L519.91 724.24 L601.5 682.57 L683.09 719.86 L764.68 714.37" fill="none" stroke="#1797CB" stroke-width="2.35" stroke-dasharray="2.6 1.95" stroke-linejoin="round"/>
<path d="M432.72 737.95H443.92M438.32 732.35V743.55" stroke="#1797CB" stroke-width="2.3"/>
<path d="M514.31 724.24H525.51M519.91 718.64V729.84" stroke="#1797CB" stroke-width="2.3"/>
<path d="M595.9 682.57H607.1M601.5 676.97V688.17" stroke="#1797CB" stroke-width="2.3"/>
<path d="M677.49 719.86H688.69M683.09 714.26V725.46" stroke="#1797CB" stroke-width="2.3"/>
<path d="M759.08 714.37H770.28M764.68 708.77V719.97" stroke="#1797CB" stroke-width="2.3"/>
<path d="M438.32 733.02 L519.91 704.5 L601.5 711.08 L683.09 723.15 L764.68 694.63" fill="none" stroke="#1797CB" stroke-width="2.35" stroke-dasharray="9.9 2.3 4.5 2.3" stroke-linejoin="round"/>
<path d="M435.02 729.72L441.62 736.32M435.02 736.32L441.62 729.72" stroke="#1797CB" stroke-width="2.3"/>
<path d="M516.61 701.2L523.21 707.8M516.61 707.8L523.21 701.2" stroke="#1797CB" stroke-width="2.3"/>
<path d="M598.2 707.78L604.8 714.38M598.2 714.38L604.8 707.78" stroke="#1797CB" stroke-width="2.3"/>
<path d="M679.79 719.85L686.39 726.45M679.79 726.45L686.39 719.85" stroke="#1797CB" stroke-width="2.3"/>
<path d="M761.38 691.33L767.98 697.93M761.38 697.93L767.98 691.33" stroke="#1797CB" stroke-width="2.3"/>
<path d="M438.32 734.55 L519.91 728.63 L601.5 717.66 L683.09 719.53 L764.68 723.15" fill="none" stroke="#EE7D17" stroke-width="2.35" stroke-linejoin="round"/>
<rect x="434.52" y="730.75" width="7.6" height="7.6" fill="#fff" stroke="#EE7D17" stroke-width="2.45"/>
<rect x="516.11" y="724.83" width="7.6" height="7.6" fill="#fff" stroke="#EE7D17" stroke-width="2.45"/>
<rect x="597.7" y="713.86" width="7.6" height="7.6" fill="#fff" stroke="#EE7D17" stroke-width="2.45"/>
<rect x="679.29" y="715.73" width="7.6" height="7.6" fill="#fff" stroke="#EE7D17" stroke-width="2.45"/>
<rect x="760.88" y="719.35" width="7.6" height="7.6" fill="#fff" stroke="#EE7D17" stroke-width="2.45"/>
<path d="M438.32 733.57 L519.91 724.24 L601.5 694.3 L683.09 715.91 L764.68 720.95" fill="none" stroke="#EE7D17" stroke-width="2.35" stroke-dasharray="10 8.8" stroke-linejoin="round"/>
<path d="M433.42 733.57L443.22 733.57M434.85 730.1L441.78 737.03M438.32 728.67L438.32 738.47M441.78 730.1L434.85 737.03" stroke="#EE7D17" stroke-width="2.3"/>
<path d="M515.01 724.24L524.81 724.24M516.44 720.78L523.37 727.71M519.91 719.34L519.91 729.14M523.37 720.78L516.44 727.71" stroke="#EE7D17" stroke-width="2.3"/>
<path d="M596.6 694.3L606.4 694.3M598.04 690.84L604.96 697.77M601.5 689.4L601.5 699.2M604.96 690.84L598.04 697.77" stroke="#EE7D17" stroke-width="2.3"/>
<path d="M678.19 715.91L687.99 715.91M679.63 712.44L686.56 719.37M683.09 711.01L683.09 720.81M686.56 712.44L679.63 719.37" stroke="#EE7D17" stroke-width="2.3"/>
<path d="M759.78 720.95L769.58 720.95M761.22 717.49L768.15 724.42M764.68 716.05L764.68 725.85M768.15 717.49L761.22 724.42" stroke="#EE7D17" stroke-width="2.3"/>
<path d="M438.32 727.75 L519.91 727.97 L601.5 715.47 L683.09 705.38 L764.68 646.16" fill="none" stroke="#D8002F" stroke-width="2.35" stroke-linejoin="round"/>
<circle cx="438.32" cy="727.75" r="4.65" fill="#fff" stroke="#D8002F" stroke-width="2.4"/>
<circle cx="519.91" cy="727.97" r="4.65" fill="#fff" stroke="#D8002F" stroke-width="2.4"/>
<circle cx="601.5" cy="715.47" r="4.65" fill="#fff" stroke="#D8002F" stroke-width="2.4"/>
<circle cx="683.09" cy="705.38" r="4.65" fill="#fff" stroke="#D8002F" stroke-width="2.4"/>
<circle cx="764.68" cy="646.16" r="4.65" fill="#fff" stroke="#D8002F" stroke-width="2.4"/>
<path d="M71.81 738.5V734.2M71.81 574V578.3M153.38 738.5V734.2M153.38 574V578.3M234.95 738.5V734.2M234.95 574V578.3M316.52 738.5V734.2M316.52 574V578.3M398.09 738.5V734.2M398.09 574V578.3M55.5 738.5H59.8M414.4 738.5H410.1M55.5 683.67H59.8M414.4 683.67H410.1M55.5 628.83H59.8M414.4 628.83H410.1M55.5 574H59.8M414.4 574H410.1" stroke="#262626" stroke-width="1.6"/>
<rect x="55.5" y="574" width="358.9" height="164.5" fill="none" stroke="#262626" stroke-width="1.6"/>
<text font-size="15.8" text-anchor="middle" font-weight="normal" fill="#262626" transform="translate(71.81 759.8) scale(1 1.04)" stroke="#262626" stroke-width="0.3">100</text>
<text font-size="15.8" text-anchor="middle" font-weight="normal" fill="#262626" transform="translate(153.38 759.8) scale(1 1.04)" stroke="#262626" stroke-width="0.3">150</text>
<text font-size="15.8" text-anchor="middle" font-weight="normal" fill="#262626" transform="translate(234.95 759.8) scale(1 1.04)" stroke="#262626" stroke-width="0.3">200</text>
<text font-size="15.8" text-anchor="middle" font-weight="normal" fill="#262626" transform="translate(316.52 759.8) scale(1 1.04)" stroke="#262626" stroke-width="0.3">250</text>
<text font-size="15.8" text-anchor="middle" font-weight="normal" fill="#262626" transform="translate(398.09 759.8) scale(1 1.04)" stroke="#262626" stroke-width="0.3">300</text>
<text font-size="15.8" text-anchor="end" font-weight="normal" fill="#262626" transform="translate(48.3 744.6) scale(1 1.04)" stroke="#262626" stroke-width="0.3">0</text>
<text font-size="15.8" text-anchor="end" font-weight="normal" fill="#262626" transform="translate(48.3 689.77) scale(1 1.04)" stroke="#262626" stroke-width="0.3">50</text>
<text font-size="15.8" text-anchor="end" font-weight="normal" fill="#262626" transform="translate(48.3 634.93) scale(1 1.04)" stroke="#262626" stroke-width="0.3">100</text>
<text font-size="15.8" text-anchor="end" font-weight="normal" fill="#262626" transform="translate(48.3 580.1) scale(1 1.04)" stroke="#262626" stroke-width="0.3">150</text>
<text font-size="16" text-anchor="middle" font-weight="bold" fill="#000" transform="translate(234.95 569.7) scale(1 1.04)">Paired pulse TMS-EMG - PP4</text>
<text font-size="16" text-anchor="middle" font-weight="bold" fill="#000" transform="translate(234.95 779.4) scale(1 1.04)">ISI (ms)</text>
<text x="0" y="0" font-size="16" text-anchor="middle" font-weight="bold" fill="#000" transform="translate(14 656.25) rotate(-90) scale(1 1.04)">TR/CR (%)</text>
<path d="M438.32 738.5V734.2M438.32 574V578.3M519.91 738.5V734.2M519.91 574V578.3M601.5 738.5V734.2M601.5 574V578.3M683.09 738.5V734.2M683.09 574V578.3M764.68 738.5V734.2M764.68 574V578.3M422 738.5H426.3M781 738.5H776.7M422 683.67H426.3M781 683.67H776.7M422 628.83H426.3M781 628.83H776.7M422 574H426.3M781 574H776.7" stroke="#262626" stroke-width="1.6"/>
<rect x="422" y="574" width="359" height="164.5" fill="none" stroke="#262626" stroke-width="1.6"/>
<text font-size="15.8" text-anchor="middle" font-weight="normal" fill="#262626" transform="translate(438.32 759.8) scale(1 1.04)" stroke="#262626" stroke-width="0.3">100</text>
<text font-size="15.8" text-anchor="middle" font-weight="normal" fill="#262626" transform="translate(519.91 759.8) scale(1 1.04)" stroke="#262626" stroke-width="0.3">150</text>
<text font-size="15.8" text-anchor="middle" font-weight="normal" fill="#262626" transform="translate(601.5 759.8) scale(1 1.04)" stroke="#262626" stroke-width="0.3">200</text>
<text font-size="15.8" text-anchor="middle" font-weight="normal" fill="#262626" transform="translate(683.09 759.8) scale(1 1.04)" stroke="#262626" stroke-width="0.3">250</text>
<text font-size="15.8" text-anchor="middle" font-weight="normal" fill="#262626" transform="translate(764.68 759.8) scale(1 1.04)" stroke="#262626" stroke-width="0.3">300</text>
<text font-size="16" text-anchor="middle" font-weight="bold" fill="#000" transform="translate(601.5 569.7) scale(1 1.04)">Paired pulse TMS-EMG - PP5</text>
<text font-size="16" text-anchor="middle" font-weight="bold" fill="#000" transform="translate(601.5 779.4) scale(1 1.04)">ISI (ms)</text>
<rect x="106.7" y="3.0" width="620.8" height="68.6" fill="#fff" stroke="#262626" stroke-width="1.5"/>
<text font-size="16" text-anchor="start" font-weight="bold" fill="#000" transform="translate(117.6 42.8) scale(1 1.04)">Legend:</text>
<path d="M302.1 18.3 L351.7 18.3" fill="none" stroke="#D8002F" stroke-width="2.35" stroke-linejoin="round"/>
<circle cx="326.9" cy="18.3" r="4.65" fill="#fff" stroke="#D8002F" stroke-width="2.4"/>
<text font-size="16" text-anchor="start" font-weight="normal" fill="#000" transform="translate(355.6 23.8) scale(1 0.98)" stroke="#000" stroke-width="0.3">HS</text>
<path d="M385.1 18.3 L435.2 18.3" fill="none" stroke="#EE7D17" stroke-width="2.35" stroke-linejoin="round"/>
<rect x="406.35" y="14.5" width="7.6" height="7.6" fill="#fff" stroke="#EE7D17" stroke-width="2.45"/>
<text font-size="16" text-anchor="start" font-weight="normal" fill="#000" transform="translate(439 23.8) scale(1 0.98)" stroke="#000" stroke-width="0.3">HS -10<tspan font-size="13.5" dy="-6.1" dx="-0.9">°</tspan></text>
<path d="M495.6 18.3 L545.2 18.3" fill="none" stroke="#EE7D17" stroke-width="2.35" stroke-dasharray="10 8.8" stroke-linejoin="round"/>
<path d="M515.5 18.3L525.3 18.3M516.94 14.84L523.86 21.76M520.4 13.4L520.4 23.2M523.86 14.84L516.94 21.76" stroke="#EE7D17" stroke-width="2.3"/>
<text font-size="16" text-anchor="start" font-weight="normal" fill="#000" transform="translate(550.3 23.8) scale(1 0.98)" stroke="#000" stroke-width="0.3">HS +10<tspan font-size="13.5" dy="-6.1" dx="-0.9">°</tspan></text>
<path d="M201.5 38.5 L250.9 38.5" fill="none" stroke="#2DAE2D" stroke-width="2.35" stroke-linejoin="round"/>
<rect x="222.4" y="34.7" width="7.6" height="7.6" fill="#fff" stroke="#2DAE2D" stroke-width="2.45"/>
<text font-size="16" text-anchor="start" font-weight="normal" fill="#000" transform="translate(254.9 44) scale(1 0.98)" stroke="#000" stroke-width="0.3">2 mm PL</text>
<path d="M326.2 38.5 L375.8 38.5" fill="none" stroke="#2DAE2D" stroke-width="2.35" stroke-dasharray="10 8.8" stroke-linejoin="round"/>
<path d="M346.1 38.5L355.9 38.5M347.54 35.04L354.46 41.96M351 33.6L351 43.4M354.46 35.04L347.54 41.96" stroke="#2DAE2D" stroke-width="2.3"/>
<text font-size="16" text-anchor="start" font-weight="normal" fill="#000" transform="translate(380.4 44) scale(1 0.98)" stroke="#000" stroke-width="0.3">2 mm AL</text>
<path d="M451.5 38.5 L502.1 38.5" fill="none" stroke="#2DAE2D" stroke-width="2.35" stroke-dasharray="2.6 1.95" stroke-linejoin="round"/>
<path d="M471.2 38.5H482.4M476.8 32.9V44.1" stroke="#2DAE2D" stroke-width="2.3"/>
<text font-size="16" text-anchor="start" font-weight="normal" fill="#000" transform="translate(505.9 44) scale(1 0.98)" stroke="#000" stroke-width="0.3">2 mm PM</text>
<path d="M581.5 38.5 L633.6 38.5" fill="none" stroke="#2DAE2D" stroke-width="2.35" stroke-dasharray="9.9 2.3 4.5 2.3" stroke-linejoin="round"/>
<path d="M603 35.2L609.6 41.8M603 41.8L609.6 35.2" stroke="#2DAE2D" stroke-width="2.3"/>
<text font-size="16" text-anchor="start" font-weight="normal" fill="#000" transform="translate(635.3 44) scale(1 0.98)" stroke="#000" stroke-width="0.3">2 mm AM</text>
<path d="M201.5 58.6 L250.9 58.6" fill="none" stroke="#1797CB" stroke-width="2.35" stroke-linejoin="round"/>
<rect x="222.4" y="54.8" width="7.6" height="7.6" fill="#fff" stroke="#1797CB" stroke-width="2.45"/>
<text font-size="16" text-anchor="start" font-weight="normal" fill="#000" transform="translate(254.9 64.1) scale(1 0.98)" stroke="#000" stroke-width="0.3">5 mm PL</text>
<path d="M326.2 58.6 L375.8 58.6" fill="none" stroke="#1797CB" stroke-width="2.35" stroke-dasharray="10 8.8" stroke-linejoin="round"/>
<path d="M346.1 58.6L355.9 58.6M347.54 55.14L354.46 62.06M351 53.7L351 63.5M354.46 55.14L347.54 62.06" stroke="#1797CB" stroke-width="2.3"/>
<text font-size="16" text-anchor="start" font-weight="normal" fill="#000" transform="translate(380.4 64.1) scale(1 0.98)" stroke="#000" stroke-width="0.3">5 mm AL</text>
<path d="M451.5 58.6 L502.1 58.6" fill="none" stroke="#1797CB" stroke-width="2.35" stroke-dasharray="2.6 1.95" stroke-linejoin="round"/>
<path d="M471.2 58.6H482.4M476.8 53V64.2" stroke="#1797CB" stroke-width="2.3"/>
<text font-size="16" text-anchor="start" font-weight="normal" fill="#000" transform="translate(505.9 64.1) scale(1 0.98)" stroke="#000" stroke-width="0.3">5 mm PM</text>
<path d="M581.5 58.6 L633.6 58.6" fill="none" stroke="#1797CB" stroke-width="2.35" stroke-dasharray="9.9 2.3 4.5 2.3" stroke-linejoin="round"/>
<path d="M603 55.3L609.6 61.9M603 61.9L609.6 55.3" stroke="#1797CB" stroke-width="2.3"/>
<text font-size="16" text-anchor="start" font-weight="normal" fill="#000" transform="translate(635.3 64.1) scale(1 0.98)" stroke="#000" stroke-width="0.3">5 mm AM</text></svg>
</body></html>
